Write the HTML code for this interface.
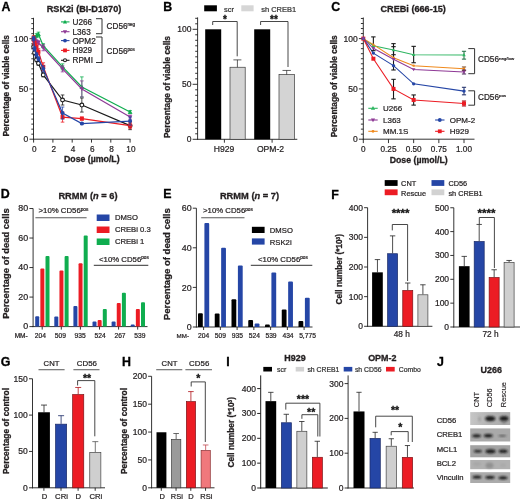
<!DOCTYPE html>
<html lang="en"><head><meta charset="utf-8"><title>Figure</title><style>html,body{margin:0;padding:0;background:#fff}svg{display:block}</style></head><body>
<svg width="520" height="502" viewBox="0 0 520 502" font-family="'Liberation Sans', Arial, sans-serif">
<rect width="520" height="502" fill="#fff"/>
<text x="1.4" y="11.3" font-size="12.4" font-weight="bold" text-anchor="start" fill="#000" stroke="#000" stroke-width="0.3">A</text>
<text x="163.3" y="11.1" font-size="12.4" font-weight="bold" text-anchor="start" fill="#000" stroke="#000" stroke-width="0.3">B</text>
<text x="331.3" y="11.3" font-size="12.4" font-weight="bold" text-anchor="start" fill="#000" stroke="#000" stroke-width="0.3">C</text>
<text x="0.8" y="198.2" font-size="12.4" font-weight="bold" text-anchor="start" fill="#000" stroke="#000" stroke-width="0.3">D</text>
<text x="163.3" y="198.2" font-size="12.4" font-weight="bold" text-anchor="start" fill="#000" stroke="#000" stroke-width="0.3">E</text>
<text x="331.3" y="198.5" font-size="12.4" font-weight="bold" text-anchor="start" fill="#000" stroke="#000" stroke-width="0.3">F</text>
<text x="0.8" y="366.1" font-size="12.4" font-weight="bold" text-anchor="start" fill="#000" stroke="#000" stroke-width="0.3">G</text>
<text x="121.9" y="366" font-size="12.4" font-weight="bold" text-anchor="start" fill="#000" stroke="#000" stroke-width="0.3">H</text>
<text x="226.3" y="365.9" font-size="12.4" font-weight="bold" text-anchor="start" fill="#000" stroke="#000" stroke-width="0.3">I</text>
<text x="437" y="365.9" font-size="12.4" font-weight="bold" text-anchor="start" fill="#000" stroke="#000" stroke-width="0.3">J</text>
<text x="84" y="11.9" font-size="9.15" font-weight="bold" text-anchor="middle" fill="#231f20" stroke="#231f20" stroke-width="0.3">RSK2i (BI-D1870)</text>
<line x1="33.5" y1="17.8" x2="33.5" y2="139.65" stroke="#1e1e1e" stroke-width="0.9"/>
<line x1="29.5" y1="139.2" x2="33.5" y2="139.2" stroke="#1e1e1e" stroke-width="0.9"/>
<text x="28.3" y="142.22" font-size="8.5" font-weight="normal" text-anchor="end" fill="#231f20" stroke="#231f20" stroke-width="0.22">0</text>
<line x1="29.5" y1="88.95" x2="33.5" y2="88.95" stroke="#1e1e1e" stroke-width="0.9"/>
<text x="28.3" y="91.97" font-size="8.5" font-weight="normal" text-anchor="end" fill="#231f20" stroke="#231f20" stroke-width="0.22">50</text>
<line x1="29.5" y1="38.7" x2="33.5" y2="38.7" stroke="#1e1e1e" stroke-width="0.9"/>
<text x="28.3" y="41.72" font-size="8.5" font-weight="normal" text-anchor="end" fill="#231f20" stroke="#231f20" stroke-width="0.22">100</text>
<line x1="31.3" y1="134.17" x2="33.5" y2="134.17" stroke="#1e1e1e" stroke-width="0.9"/>
<line x1="31.3" y1="129.15" x2="33.5" y2="129.15" stroke="#1e1e1e" stroke-width="0.9"/>
<line x1="31.3" y1="124.12" x2="33.5" y2="124.12" stroke="#1e1e1e" stroke-width="0.9"/>
<line x1="31.3" y1="119.1" x2="33.5" y2="119.1" stroke="#1e1e1e" stroke-width="0.9"/>
<line x1="31.3" y1="114.07" x2="33.5" y2="114.07" stroke="#1e1e1e" stroke-width="0.9"/>
<line x1="31.3" y1="109.05" x2="33.5" y2="109.05" stroke="#1e1e1e" stroke-width="0.9"/>
<line x1="31.3" y1="104.02" x2="33.5" y2="104.02" stroke="#1e1e1e" stroke-width="0.9"/>
<line x1="31.3" y1="99" x2="33.5" y2="99" stroke="#1e1e1e" stroke-width="0.9"/>
<line x1="31.3" y1="93.97" x2="33.5" y2="93.97" stroke="#1e1e1e" stroke-width="0.9"/>
<line x1="31.3" y1="83.92" x2="33.5" y2="83.92" stroke="#1e1e1e" stroke-width="0.9"/>
<line x1="31.3" y1="78.9" x2="33.5" y2="78.9" stroke="#1e1e1e" stroke-width="0.9"/>
<line x1="31.3" y1="73.88" x2="33.5" y2="73.88" stroke="#1e1e1e" stroke-width="0.9"/>
<line x1="31.3" y1="68.85" x2="33.5" y2="68.85" stroke="#1e1e1e" stroke-width="0.9"/>
<line x1="31.3" y1="63.83" x2="33.5" y2="63.83" stroke="#1e1e1e" stroke-width="0.9"/>
<line x1="31.3" y1="58.8" x2="33.5" y2="58.8" stroke="#1e1e1e" stroke-width="0.9"/>
<line x1="31.3" y1="53.77" x2="33.5" y2="53.77" stroke="#1e1e1e" stroke-width="0.9"/>
<line x1="31.3" y1="48.75" x2="33.5" y2="48.75" stroke="#1e1e1e" stroke-width="0.9"/>
<line x1="31.3" y1="43.72" x2="33.5" y2="43.72" stroke="#1e1e1e" stroke-width="0.9"/>
<line x1="31.3" y1="33.67" x2="33.5" y2="33.67" stroke="#1e1e1e" stroke-width="0.9"/>
<line x1="31.3" y1="28.65" x2="33.5" y2="28.65" stroke="#1e1e1e" stroke-width="0.9"/>
<line x1="31.3" y1="23.62" x2="33.5" y2="23.62" stroke="#1e1e1e" stroke-width="0.9"/>
<line x1="31.3" y1="18.6" x2="33.5" y2="18.6" stroke="#1e1e1e" stroke-width="0.9"/>
<line x1="33.05" y1="139.2" x2="130.5" y2="139.2" stroke="#1e1e1e" stroke-width="0.9"/>
<line x1="33.6" y1="139.2" x2="33.6" y2="142.6" stroke="#1e1e1e" stroke-width="0.9"/>
<text x="34.4" y="151.6" font-size="8.2" font-weight="normal" text-anchor="middle" fill="#231f20" stroke="#231f20" stroke-width="0.22">0</text>
<line x1="52.9" y1="139.2" x2="52.9" y2="142.6" stroke="#1e1e1e" stroke-width="0.9"/>
<text x="53.7" y="151.6" font-size="8.2" font-weight="normal" text-anchor="middle" fill="#231f20" stroke="#231f20" stroke-width="0.22">2</text>
<line x1="72.2" y1="139.2" x2="72.2" y2="142.6" stroke="#1e1e1e" stroke-width="0.9"/>
<text x="73" y="151.6" font-size="8.2" font-weight="normal" text-anchor="middle" fill="#231f20" stroke="#231f20" stroke-width="0.22">4</text>
<line x1="91.5" y1="139.2" x2="91.5" y2="142.6" stroke="#1e1e1e" stroke-width="0.9"/>
<text x="92.3" y="151.6" font-size="8.2" font-weight="normal" text-anchor="middle" fill="#231f20" stroke="#231f20" stroke-width="0.22">6</text>
<line x1="110.8" y1="139.2" x2="110.8" y2="142.6" stroke="#1e1e1e" stroke-width="0.9"/>
<text x="111.6" y="151.6" font-size="8.2" font-weight="normal" text-anchor="middle" fill="#231f20" stroke="#231f20" stroke-width="0.22">8</text>
<line x1="130.1" y1="139.2" x2="130.1" y2="142.6" stroke="#1e1e1e" stroke-width="0.9"/>
<text x="130.9" y="151.6" font-size="8.2" font-weight="normal" text-anchor="middle" fill="#231f20" stroke="#231f20" stroke-width="0.22">10</text>
<text x="91.8" y="162.3" font-size="8.75" font-weight="bold" text-anchor="middle" fill="#231f20" stroke="#231f20" stroke-width="0.3">Dose (µmo/L)</text>
<text transform="translate(8.8 85.8) rotate(-90)" font-size="8.3" font-weight="bold" text-anchor="middle" fill="#231f20" stroke="#231f20" stroke-width="0.3">Percentage of viable cells</text>
<polyline points="33.6,46.74 34.57,52.77 36.5,59.8 38.43,63.32 43.25,74.88 62.55,100 81.85,105.03 130.1,125.63" fill="none" stroke="#1a1a1a" stroke-width="1.2"/>
<line x1="33.6" y1="44.73" x2="33.6" y2="48.75" stroke="#1a1a1a" stroke-width="0.8"/>
<line x1="31.8" y1="44.73" x2="35.4" y2="44.73" stroke="#1a1a1a" stroke-width="0.8"/>
<line x1="31.8" y1="48.75" x2="35.4" y2="48.75" stroke="#1a1a1a" stroke-width="0.8"/>
<line x1="34.57" y1="50.76" x2="34.57" y2="54.78" stroke="#1a1a1a" stroke-width="0.8"/>
<line x1="32.77" y1="50.76" x2="36.37" y2="50.76" stroke="#1a1a1a" stroke-width="0.8"/>
<line x1="32.77" y1="54.78" x2="36.37" y2="54.78" stroke="#1a1a1a" stroke-width="0.8"/>
<line x1="36.5" y1="57.8" x2="36.5" y2="61.81" stroke="#1a1a1a" stroke-width="0.8"/>
<line x1="34.7" y1="57.8" x2="38.3" y2="57.8" stroke="#1a1a1a" stroke-width="0.8"/>
<line x1="34.7" y1="61.81" x2="38.3" y2="61.81" stroke="#1a1a1a" stroke-width="0.8"/>
<line x1="38.43" y1="61.31" x2="38.43" y2="65.33" stroke="#1a1a1a" stroke-width="0.8"/>
<line x1="36.63" y1="61.31" x2="40.23" y2="61.31" stroke="#1a1a1a" stroke-width="0.8"/>
<line x1="36.63" y1="65.33" x2="40.23" y2="65.33" stroke="#1a1a1a" stroke-width="0.8"/>
<line x1="43.25" y1="72.87" x2="43.25" y2="76.89" stroke="#1a1a1a" stroke-width="0.8"/>
<line x1="41.45" y1="72.87" x2="45.05" y2="72.87" stroke="#1a1a1a" stroke-width="0.8"/>
<line x1="41.45" y1="76.89" x2="45.05" y2="76.89" stroke="#1a1a1a" stroke-width="0.8"/>
<line x1="62.55" y1="94.98" x2="62.55" y2="105.03" stroke="#1a1a1a" stroke-width="0.8"/>
<line x1="60.75" y1="94.98" x2="64.35" y2="94.98" stroke="#1a1a1a" stroke-width="0.8"/>
<line x1="60.75" y1="105.03" x2="64.35" y2="105.03" stroke="#1a1a1a" stroke-width="0.8"/>
<line x1="81.85" y1="97.99" x2="81.85" y2="112.06" stroke="#1a1a1a" stroke-width="0.8"/>
<line x1="80.05" y1="97.99" x2="83.65" y2="97.99" stroke="#1a1a1a" stroke-width="0.8"/>
<line x1="80.05" y1="112.06" x2="83.65" y2="112.06" stroke="#1a1a1a" stroke-width="0.8"/>
<line x1="130.1" y1="121.61" x2="130.1" y2="129.65" stroke="#1a1a1a" stroke-width="0.8"/>
<line x1="128.3" y1="121.61" x2="131.9" y2="121.61" stroke="#1a1a1a" stroke-width="0.8"/>
<line x1="128.3" y1="129.65" x2="131.9" y2="129.65" stroke="#1a1a1a" stroke-width="0.8"/>
<circle cx="33.6" cy="46.74" r="1.9" fill="#fff" stroke="#1a1a1a" stroke-width="1.1"/>
<circle cx="34.57" cy="52.77" r="1.9" fill="#fff" stroke="#1a1a1a" stroke-width="1.1"/>
<circle cx="36.5" cy="59.8" r="1.9" fill="#fff" stroke="#1a1a1a" stroke-width="1.1"/>
<circle cx="38.43" cy="63.32" r="1.9" fill="#fff" stroke="#1a1a1a" stroke-width="1.1"/>
<circle cx="43.25" cy="74.88" r="1.9" fill="#fff" stroke="#1a1a1a" stroke-width="1.1"/>
<circle cx="62.55" cy="100" r="1.9" fill="#fff" stroke="#1a1a1a" stroke-width="1.1"/>
<circle cx="81.85" cy="105.03" r="1.9" fill="#fff" stroke="#1a1a1a" stroke-width="1.1"/>
<circle cx="130.1" cy="125.63" r="1.9" fill="#fff" stroke="#1a1a1a" stroke-width="1.1"/>
<polyline points="33.6,38.7 34.57,37.69 36.5,35.69 38.43,34.18 43.25,45.73 62.55,66.84 81.85,86.94 130.1,112.06" fill="none" stroke="#0fad4f" stroke-width="1.2"/>
<line x1="33.6" y1="36.69" x2="33.6" y2="40.71" stroke="#0fad4f" stroke-width="0.8"/>
<line x1="31.8" y1="36.69" x2="35.4" y2="36.69" stroke="#0fad4f" stroke-width="0.8"/>
<line x1="31.8" y1="40.71" x2="35.4" y2="40.71" stroke="#0fad4f" stroke-width="0.8"/>
<line x1="34.57" y1="35.69" x2="34.57" y2="39.7" stroke="#0fad4f" stroke-width="0.8"/>
<line x1="32.77" y1="35.69" x2="36.37" y2="35.69" stroke="#0fad4f" stroke-width="0.8"/>
<line x1="32.77" y1="39.7" x2="36.37" y2="39.7" stroke="#0fad4f" stroke-width="0.8"/>
<line x1="36.5" y1="33.67" x2="36.5" y2="37.69" stroke="#0fad4f" stroke-width="0.8"/>
<line x1="34.7" y1="33.67" x2="38.3" y2="33.67" stroke="#0fad4f" stroke-width="0.8"/>
<line x1="34.7" y1="37.69" x2="38.3" y2="37.69" stroke="#0fad4f" stroke-width="0.8"/>
<line x1="38.43" y1="32.17" x2="38.43" y2="36.19" stroke="#0fad4f" stroke-width="0.8"/>
<line x1="36.63" y1="32.17" x2="40.23" y2="32.17" stroke="#0fad4f" stroke-width="0.8"/>
<line x1="36.63" y1="36.19" x2="40.23" y2="36.19" stroke="#0fad4f" stroke-width="0.8"/>
<line x1="43.25" y1="43.72" x2="43.25" y2="47.75" stroke="#0fad4f" stroke-width="0.8"/>
<line x1="41.45" y1="43.72" x2="45.05" y2="43.72" stroke="#0fad4f" stroke-width="0.8"/>
<line x1="41.45" y1="47.75" x2="45.05" y2="47.75" stroke="#0fad4f" stroke-width="0.8"/>
<line x1="62.55" y1="63.83" x2="62.55" y2="69.85" stroke="#0fad4f" stroke-width="0.8"/>
<line x1="60.75" y1="63.83" x2="64.35" y2="63.83" stroke="#0fad4f" stroke-width="0.8"/>
<line x1="60.75" y1="69.85" x2="64.35" y2="69.85" stroke="#0fad4f" stroke-width="0.8"/>
<line x1="81.85" y1="76.89" x2="81.85" y2="96.99" stroke="#0fad4f" stroke-width="0.8"/>
<line x1="80.05" y1="76.89" x2="83.65" y2="76.89" stroke="#0fad4f" stroke-width="0.8"/>
<line x1="80.05" y1="96.99" x2="83.65" y2="96.99" stroke="#0fad4f" stroke-width="0.8"/>
<line x1="130.1" y1="110.56" x2="130.1" y2="113.57" stroke="#0fad4f" stroke-width="0.8"/>
<line x1="128.3" y1="110.56" x2="131.9" y2="110.56" stroke="#0fad4f" stroke-width="0.8"/>
<line x1="128.3" y1="113.57" x2="131.9" y2="113.57" stroke="#0fad4f" stroke-width="0.8"/>
<path d="M33.6 36.17 l2.42 4.29 h-4.84 z" fill="#0fad4f"/>
<path d="M34.57 35.16 l2.42 4.29 h-4.84 z" fill="#0fad4f"/>
<path d="M36.5 33.16 l2.42 4.29 h-4.84 z" fill="#0fad4f"/>
<path d="M38.43 31.65 l2.42 4.29 h-4.84 z" fill="#0fad4f"/>
<path d="M43.25 43.2 l2.42 4.29 h-4.84 z" fill="#0fad4f"/>
<path d="M62.55 64.31 l2.42 4.29 h-4.84 z" fill="#0fad4f"/>
<path d="M81.85 84.41 l2.42 4.29 h-4.84 z" fill="#0fad4f"/>
<path d="M130.1 109.53 l2.42 4.29 h-4.84 z" fill="#0fad4f"/>
<polyline points="33.6,38.7 34.57,39.7 36.5,41.72 38.43,42.72 43.25,47.75 62.55,68.85 81.85,88.95 130.1,117.09" fill="none" stroke="#8f3a96" stroke-width="1.2"/>
<line x1="33.6" y1="36.69" x2="33.6" y2="40.71" stroke="#8f3a96" stroke-width="0.8"/>
<line x1="31.8" y1="36.69" x2="35.4" y2="36.69" stroke="#8f3a96" stroke-width="0.8"/>
<line x1="31.8" y1="40.71" x2="35.4" y2="40.71" stroke="#8f3a96" stroke-width="0.8"/>
<line x1="34.57" y1="37.69" x2="34.57" y2="41.72" stroke="#8f3a96" stroke-width="0.8"/>
<line x1="32.77" y1="37.69" x2="36.37" y2="37.69" stroke="#8f3a96" stroke-width="0.8"/>
<line x1="32.77" y1="41.72" x2="36.37" y2="41.72" stroke="#8f3a96" stroke-width="0.8"/>
<line x1="36.5" y1="39.7" x2="36.5" y2="43.72" stroke="#8f3a96" stroke-width="0.8"/>
<line x1="34.7" y1="39.7" x2="38.3" y2="39.7" stroke="#8f3a96" stroke-width="0.8"/>
<line x1="34.7" y1="43.72" x2="38.3" y2="43.72" stroke="#8f3a96" stroke-width="0.8"/>
<line x1="38.43" y1="40.71" x2="38.43" y2="44.73" stroke="#8f3a96" stroke-width="0.8"/>
<line x1="36.63" y1="40.71" x2="40.23" y2="40.71" stroke="#8f3a96" stroke-width="0.8"/>
<line x1="36.63" y1="44.73" x2="40.23" y2="44.73" stroke="#8f3a96" stroke-width="0.8"/>
<line x1="43.25" y1="44.73" x2="43.25" y2="50.76" stroke="#8f3a96" stroke-width="0.8"/>
<line x1="41.45" y1="44.73" x2="45.05" y2="44.73" stroke="#8f3a96" stroke-width="0.8"/>
<line x1="41.45" y1="50.76" x2="45.05" y2="50.76" stroke="#8f3a96" stroke-width="0.8"/>
<line x1="62.55" y1="65.83" x2="62.55" y2="71.86" stroke="#8f3a96" stroke-width="0.8"/>
<line x1="60.75" y1="65.83" x2="64.35" y2="65.83" stroke="#8f3a96" stroke-width="0.8"/>
<line x1="60.75" y1="71.86" x2="64.35" y2="71.86" stroke="#8f3a96" stroke-width="0.8"/>
<line x1="81.85" y1="80.91" x2="81.85" y2="96.99" stroke="#8f3a96" stroke-width="0.8"/>
<line x1="80.05" y1="80.91" x2="83.65" y2="80.91" stroke="#8f3a96" stroke-width="0.8"/>
<line x1="80.05" y1="96.99" x2="83.65" y2="96.99" stroke="#8f3a96" stroke-width="0.8"/>
<line x1="130.1" y1="115.08" x2="130.1" y2="119.1" stroke="#8f3a96" stroke-width="0.8"/>
<line x1="128.3" y1="115.08" x2="131.9" y2="115.08" stroke="#8f3a96" stroke-width="0.8"/>
<line x1="128.3" y1="119.1" x2="131.9" y2="119.1" stroke="#8f3a96" stroke-width="0.8"/>
<path d="M33.6 41 l2.2 -3.9 h-4.4 z" fill="#8f3a96"/>
<path d="M34.57 42 l2.2 -3.9 h-4.4 z" fill="#8f3a96"/>
<path d="M36.5 44.02 l2.2 -3.9 h-4.4 z" fill="#8f3a96"/>
<path d="M38.43 45.02 l2.2 -3.9 h-4.4 z" fill="#8f3a96"/>
<path d="M43.25 50.05 l2.2 -3.9 h-4.4 z" fill="#8f3a96"/>
<path d="M62.55 71.15 l2.2 -3.9 h-4.4 z" fill="#8f3a96"/>
<path d="M81.85 91.25 l2.2 -3.9 h-4.4 z" fill="#8f3a96"/>
<path d="M130.1 119.39 l2.2 -3.9 h-4.4 z" fill="#8f3a96"/>
<polyline points="33.6,38.7 34.57,42.72 36.5,46.74 38.43,51.77 43.25,66.84 62.55,117.09 81.85,118.6 130.1,125.63" fill="none" stroke="#ec1c24" stroke-width="1.2"/>
<line x1="33.6" y1="35.69" x2="33.6" y2="41.72" stroke="#ec1c24" stroke-width="0.8"/>
<line x1="31.8" y1="35.69" x2="35.4" y2="35.69" stroke="#ec1c24" stroke-width="0.8"/>
<line x1="31.8" y1="41.72" x2="35.4" y2="41.72" stroke="#ec1c24" stroke-width="0.8"/>
<line x1="34.57" y1="39.7" x2="34.57" y2="45.73" stroke="#ec1c24" stroke-width="0.8"/>
<line x1="32.77" y1="39.7" x2="36.37" y2="39.7" stroke="#ec1c24" stroke-width="0.8"/>
<line x1="32.77" y1="45.73" x2="36.37" y2="45.73" stroke="#ec1c24" stroke-width="0.8"/>
<line x1="36.5" y1="43.72" x2="36.5" y2="49.75" stroke="#ec1c24" stroke-width="0.8"/>
<line x1="34.7" y1="43.72" x2="38.3" y2="43.72" stroke="#ec1c24" stroke-width="0.8"/>
<line x1="34.7" y1="49.75" x2="38.3" y2="49.75" stroke="#ec1c24" stroke-width="0.8"/>
<line x1="38.43" y1="48.75" x2="38.43" y2="54.78" stroke="#ec1c24" stroke-width="0.8"/>
<line x1="36.63" y1="48.75" x2="40.23" y2="48.75" stroke="#ec1c24" stroke-width="0.8"/>
<line x1="36.63" y1="54.78" x2="40.23" y2="54.78" stroke="#ec1c24" stroke-width="0.8"/>
<line x1="43.25" y1="62.82" x2="43.25" y2="70.86" stroke="#ec1c24" stroke-width="0.8"/>
<line x1="41.45" y1="62.82" x2="45.05" y2="62.82" stroke="#ec1c24" stroke-width="0.8"/>
<line x1="41.45" y1="70.86" x2="45.05" y2="70.86" stroke="#ec1c24" stroke-width="0.8"/>
<line x1="62.55" y1="112.06" x2="62.55" y2="122.11" stroke="#ec1c24" stroke-width="0.8"/>
<line x1="60.75" y1="112.06" x2="64.35" y2="112.06" stroke="#ec1c24" stroke-width="0.8"/>
<line x1="60.75" y1="122.11" x2="64.35" y2="122.11" stroke="#ec1c24" stroke-width="0.8"/>
<line x1="81.85" y1="117.09" x2="81.85" y2="120.1" stroke="#ec1c24" stroke-width="0.8"/>
<line x1="80.05" y1="117.09" x2="83.65" y2="117.09" stroke="#ec1c24" stroke-width="0.8"/>
<line x1="80.05" y1="120.1" x2="83.65" y2="120.1" stroke="#ec1c24" stroke-width="0.8"/>
<line x1="130.1" y1="122.62" x2="130.1" y2="128.65" stroke="#ec1c24" stroke-width="0.8"/>
<line x1="128.3" y1="122.62" x2="131.9" y2="122.62" stroke="#ec1c24" stroke-width="0.8"/>
<line x1="128.3" y1="128.65" x2="131.9" y2="128.65" stroke="#ec1c24" stroke-width="0.8"/>
<rect x="31.6" y="36.7" width="4" height="4" fill="#ec1c24"/>
<rect x="32.57" y="40.72" width="4" height="4" fill="#ec1c24"/>
<rect x="34.5" y="44.74" width="4" height="4" fill="#ec1c24"/>
<rect x="36.43" y="49.77" width="4" height="4" fill="#ec1c24"/>
<rect x="41.25" y="64.84" width="4" height="4" fill="#ec1c24"/>
<rect x="60.55" y="115.09" width="4" height="4" fill="#ec1c24"/>
<rect x="79.85" y="116.6" width="4" height="4" fill="#ec1c24"/>
<rect x="128.1" y="123.63" width="4" height="4" fill="#ec1c24"/>
<polyline points="33.6,38.7 34.57,48.75 36.5,54.78 38.43,58.8 43.25,68.85 62.55,113.07 81.85,123.62 130.1,121.11" fill="none" stroke="#2546a6" stroke-width="1.2"/>
<line x1="33.6" y1="36.69" x2="33.6" y2="40.71" stroke="#2546a6" stroke-width="0.8"/>
<line x1="31.8" y1="36.69" x2="35.4" y2="36.69" stroke="#2546a6" stroke-width="0.8"/>
<line x1="31.8" y1="40.71" x2="35.4" y2="40.71" stroke="#2546a6" stroke-width="0.8"/>
<line x1="34.57" y1="46.74" x2="34.57" y2="50.76" stroke="#2546a6" stroke-width="0.8"/>
<line x1="32.77" y1="46.74" x2="36.37" y2="46.74" stroke="#2546a6" stroke-width="0.8"/>
<line x1="32.77" y1="50.76" x2="36.37" y2="50.76" stroke="#2546a6" stroke-width="0.8"/>
<line x1="36.5" y1="52.77" x2="36.5" y2="56.79" stroke="#2546a6" stroke-width="0.8"/>
<line x1="34.7" y1="52.77" x2="38.3" y2="52.77" stroke="#2546a6" stroke-width="0.8"/>
<line x1="34.7" y1="56.79" x2="38.3" y2="56.79" stroke="#2546a6" stroke-width="0.8"/>
<line x1="38.43" y1="56.79" x2="38.43" y2="60.81" stroke="#2546a6" stroke-width="0.8"/>
<line x1="36.63" y1="56.79" x2="40.23" y2="56.79" stroke="#2546a6" stroke-width="0.8"/>
<line x1="36.63" y1="60.81" x2="40.23" y2="60.81" stroke="#2546a6" stroke-width="0.8"/>
<line x1="43.25" y1="65.83" x2="43.25" y2="71.86" stroke="#2546a6" stroke-width="0.8"/>
<line x1="41.45" y1="65.83" x2="45.05" y2="65.83" stroke="#2546a6" stroke-width="0.8"/>
<line x1="41.45" y1="71.86" x2="45.05" y2="71.86" stroke="#2546a6" stroke-width="0.8"/>
<line x1="62.55" y1="107.04" x2="62.55" y2="119.1" stroke="#2546a6" stroke-width="0.8"/>
<line x1="60.75" y1="107.04" x2="64.35" y2="107.04" stroke="#2546a6" stroke-width="0.8"/>
<line x1="60.75" y1="119.1" x2="64.35" y2="119.1" stroke="#2546a6" stroke-width="0.8"/>
<line x1="81.85" y1="122.62" x2="81.85" y2="124.63" stroke="#2546a6" stroke-width="0.8"/>
<line x1="80.05" y1="122.62" x2="83.65" y2="122.62" stroke="#2546a6" stroke-width="0.8"/>
<line x1="80.05" y1="124.63" x2="83.65" y2="124.63" stroke="#2546a6" stroke-width="0.8"/>
<line x1="130.1" y1="117.09" x2="130.1" y2="125.13" stroke="#2546a6" stroke-width="0.8"/>
<line x1="128.3" y1="117.09" x2="131.9" y2="117.09" stroke="#2546a6" stroke-width="0.8"/>
<line x1="128.3" y1="125.13" x2="131.9" y2="125.13" stroke="#2546a6" stroke-width="0.8"/>
<circle cx="33.6" cy="38.7" r="2" fill="#2546a6"/>
<circle cx="34.57" cy="48.75" r="2" fill="#2546a6"/>
<circle cx="36.5" cy="54.78" r="2" fill="#2546a6"/>
<circle cx="38.43" cy="58.8" r="2" fill="#2546a6"/>
<circle cx="43.25" cy="68.85" r="2" fill="#2546a6"/>
<circle cx="62.55" cy="113.07" r="2" fill="#2546a6"/>
<circle cx="81.85" cy="123.62" r="2" fill="#2546a6"/>
<circle cx="130.1" cy="121.11" r="2" fill="#2546a6"/>
<line x1="61" y1="21.9" x2="69.5" y2="21.9" stroke="#0fad4f" stroke-width="1.1"/>
<path d="M65 19.71 l2.09 3.7 h-4.18 z" fill="#0fad4f"/>
<text x="72.5" y="24.8" font-size="8.2" font-weight="normal" text-anchor="start" fill="#231f20" stroke="#231f20" stroke-width="0.22">U266</text>
<line x1="61" y1="31.7" x2="69.5" y2="31.7" stroke="#8f3a96" stroke-width="1.1"/>
<path d="M65 33.88 l2.09 -3.7 h-4.18 z" fill="#8f3a96"/>
<text x="72.5" y="34.6" font-size="8.2" font-weight="normal" text-anchor="start" fill="#231f20" stroke="#231f20" stroke-width="0.22">L363</text>
<line x1="61" y1="40.6" x2="69.5" y2="40.6" stroke="#2546a6" stroke-width="1.1"/>
<circle cx="65" cy="40.6" r="1.9" fill="#2546a6"/>
<text x="72.5" y="43.5" font-size="8.2" font-weight="normal" text-anchor="start" fill="#231f20" stroke="#231f20" stroke-width="0.22">OPM2</text>
<line x1="61" y1="50.4" x2="69.5" y2="50.4" stroke="#ec1c24" stroke-width="1.1"/>
<rect x="63.1" y="48.5" width="3.8" height="3.8" fill="#ec1c24"/>
<text x="72.5" y="53.3" font-size="8.2" font-weight="normal" text-anchor="start" fill="#231f20" stroke="#231f20" stroke-width="0.22">H929</text>
<line x1="61" y1="60.3" x2="69.5" y2="60.3" stroke="#1a1a1a" stroke-width="1.1"/>
<circle cx="65" cy="60.3" r="1.5" fill="#fff" stroke="#1a1a1a" stroke-width="1.1"/>
<text x="72.5" y="63.2" font-size="8.2" font-weight="normal" text-anchor="start" fill="#231f20" stroke="#231f20" stroke-width="0.22">RPMI</text>
<path d="M96 18.7 H102 V33.7 H96" fill="none" stroke="#333" stroke-width="1"/>
<path d="M96 37 H102 V62.5 H96" fill="none" stroke="#333" stroke-width="1"/>
<text x="106.6" y="29" font-size="8.2" font-weight="normal" text-anchor="start" fill="#231f20" stroke="#231f20" stroke-width="0.22">CD56<tspan font-size="4.5" dy="-2.7">neg</tspan></text>
<text x="106.6" y="53.5" font-size="8.2" font-weight="normal" text-anchor="start" fill="#231f20" stroke="#231f20" stroke-width="0.22">CD56<tspan font-size="4.5" dy="-2.7">pos</tspan></text>
<line x1="197.6" y1="17.4" x2="197.6" y2="139.75" stroke="#1e1e1e" stroke-width="0.9"/>
<line x1="192.6" y1="139.3" x2="197.6" y2="139.3" stroke="#1e1e1e" stroke-width="0.9"/>
<text x="191.4" y="142.32" font-size="8.5" font-weight="normal" text-anchor="end" fill="#231f20" stroke="#231f20" stroke-width="0.22">0</text>
<line x1="192.6" y1="84.3" x2="197.6" y2="84.3" stroke="#1e1e1e" stroke-width="0.9"/>
<text x="191.4" y="87.32" font-size="8.5" font-weight="normal" text-anchor="end" fill="#231f20" stroke="#231f20" stroke-width="0.22">50</text>
<line x1="192.6" y1="29.3" x2="197.6" y2="29.3" stroke="#1e1e1e" stroke-width="0.9"/>
<text x="191.4" y="32.32" font-size="8.5" font-weight="normal" text-anchor="end" fill="#231f20" stroke="#231f20" stroke-width="0.22">100</text>
<line x1="195.2" y1="133.8" x2="197.6" y2="133.8" stroke="#1e1e1e" stroke-width="0.9"/>
<line x1="195.2" y1="128.3" x2="197.6" y2="128.3" stroke="#1e1e1e" stroke-width="0.9"/>
<line x1="195.2" y1="122.8" x2="197.6" y2="122.8" stroke="#1e1e1e" stroke-width="0.9"/>
<line x1="195.2" y1="117.3" x2="197.6" y2="117.3" stroke="#1e1e1e" stroke-width="0.9"/>
<line x1="195.2" y1="111.8" x2="197.6" y2="111.8" stroke="#1e1e1e" stroke-width="0.9"/>
<line x1="195.2" y1="106.3" x2="197.6" y2="106.3" stroke="#1e1e1e" stroke-width="0.9"/>
<line x1="195.2" y1="100.8" x2="197.6" y2="100.8" stroke="#1e1e1e" stroke-width="0.9"/>
<line x1="195.2" y1="95.3" x2="197.6" y2="95.3" stroke="#1e1e1e" stroke-width="0.9"/>
<line x1="195.2" y1="89.8" x2="197.6" y2="89.8" stroke="#1e1e1e" stroke-width="0.9"/>
<line x1="195.2" y1="78.8" x2="197.6" y2="78.8" stroke="#1e1e1e" stroke-width="0.9"/>
<line x1="195.2" y1="73.3" x2="197.6" y2="73.3" stroke="#1e1e1e" stroke-width="0.9"/>
<line x1="195.2" y1="67.8" x2="197.6" y2="67.8" stroke="#1e1e1e" stroke-width="0.9"/>
<line x1="195.2" y1="62.3" x2="197.6" y2="62.3" stroke="#1e1e1e" stroke-width="0.9"/>
<line x1="195.2" y1="56.8" x2="197.6" y2="56.8" stroke="#1e1e1e" stroke-width="0.9"/>
<line x1="195.2" y1="51.3" x2="197.6" y2="51.3" stroke="#1e1e1e" stroke-width="0.9"/>
<line x1="195.2" y1="45.8" x2="197.6" y2="45.8" stroke="#1e1e1e" stroke-width="0.9"/>
<line x1="195.2" y1="40.3" x2="197.6" y2="40.3" stroke="#1e1e1e" stroke-width="0.9"/>
<line x1="195.2" y1="34.8" x2="197.6" y2="34.8" stroke="#1e1e1e" stroke-width="0.9"/>
<line x1="195.2" y1="23.8" x2="197.6" y2="23.8" stroke="#1e1e1e" stroke-width="0.9"/>
<line x1="195.2" y1="18.3" x2="197.6" y2="18.3" stroke="#1e1e1e" stroke-width="0.9"/>
<line x1="197.15" y1="139.3" x2="297.3" y2="139.3" stroke="#1e1e1e" stroke-width="0.9"/>
<text transform="translate(169.7 87) rotate(-90)" font-size="8.35" font-weight="bold" text-anchor="middle" fill="#231f20" stroke="#231f20" stroke-width="0.3">Percentage of viable cells</text>
<rect x="205.2" y="29.3" width="16" height="110" fill="#000"/>
<rect x="230" y="67.25" width="15.2" height="72.05" fill="#d4d4d4" stroke="#3a3a3a" stroke-width="0.7"/>
<line x1="237.4" y1="59.88" x2="237.4" y2="67.25" stroke="#1e1e1e" stroke-width="0.7"/>
<line x1="233.4" y1="59.88" x2="241.4" y2="59.88" stroke="#1e1e1e" stroke-width="0.7"/>
<rect x="254.2" y="29.3" width="16" height="110" fill="#000"/>
<rect x="279" y="74.51" width="15.4" height="64.79" fill="#d4d4d4" stroke="#3a3a3a" stroke-width="0.7"/>
<line x1="286.7" y1="70.44" x2="286.7" y2="74.51" stroke="#1e1e1e" stroke-width="0.7"/>
<line x1="282.5" y1="70.44" x2="290.9" y2="70.44" stroke="#1e1e1e" stroke-width="0.7"/>
<line x1="224.4" y1="139.3" x2="224.4" y2="142.7" stroke="#1e1e1e" stroke-width="0.9"/>
<line x1="272.1" y1="139.3" x2="272.1" y2="142.7" stroke="#1e1e1e" stroke-width="0.9"/>
<text x="224" y="152.2" font-size="8.6" font-weight="normal" text-anchor="middle" fill="#231f20" stroke="#231f20" stroke-width="0.22">H929</text>
<text x="270.5" y="152.2" font-size="8.6" font-weight="normal" text-anchor="middle" fill="#231f20" stroke="#231f20" stroke-width="0.22">OPM-2</text>
<path d="M212.7 25 V21.5 H237.2 V56.3" fill="none" stroke="#333" stroke-width="0.9"/>
<path d="M260.6 25 V21.5 H288 V67" fill="none" stroke="#333" stroke-width="0.9"/>
<text x="225" y="22.85" font-size="10" font-weight="bold" text-anchor="middle" fill="#111" stroke="#111" stroke-width="0.3">*</text>
<text x="274" y="22.85" font-size="10" font-weight="bold" text-anchor="middle" fill="#111" stroke="#111" stroke-width="0.3">**</text>
<rect x="204.2" y="5.3" width="12.7" height="6" fill="#000"/>
<text x="224" y="11.5" font-size="7.5" font-weight="normal" text-anchor="start" fill="#333" stroke="#333" stroke-width="0.22">scr</text>
<rect x="241.3" y="5.3" width="12.3" height="6" fill="#d6d6d6"/>
<text x="261.2" y="11.5" font-size="7.5" font-weight="normal" text-anchor="start" fill="#333" stroke="#333" stroke-width="0.22">sh CREB1</text>
<text x="413.2" y="11.8" font-size="9.15" font-weight="bold" text-anchor="middle" fill="#231f20" stroke="#231f20" stroke-width="0.3">CREBi (666-15)</text>
<line x1="363.3" y1="17.5" x2="363.3" y2="139.65" stroke="#1e1e1e" stroke-width="0.9"/>
<line x1="358.9" y1="139.2" x2="363.3" y2="139.2" stroke="#1e1e1e" stroke-width="0.9"/>
<text x="357.7" y="142.22" font-size="8.5" font-weight="normal" text-anchor="end" fill="#231f20" stroke="#231f20" stroke-width="0.22">0</text>
<line x1="358.9" y1="88.9" x2="363.3" y2="88.9" stroke="#1e1e1e" stroke-width="0.9"/>
<text x="357.7" y="91.92" font-size="8.5" font-weight="normal" text-anchor="end" fill="#231f20" stroke="#231f20" stroke-width="0.22">50</text>
<line x1="358.9" y1="38.6" x2="363.3" y2="38.6" stroke="#1e1e1e" stroke-width="0.9"/>
<text x="357.7" y="41.62" font-size="8.5" font-weight="normal" text-anchor="end" fill="#231f20" stroke="#231f20" stroke-width="0.22">100</text>
<line x1="360.9" y1="134.17" x2="363.3" y2="134.17" stroke="#1e1e1e" stroke-width="0.9"/>
<line x1="360.9" y1="129.14" x2="363.3" y2="129.14" stroke="#1e1e1e" stroke-width="0.9"/>
<line x1="360.9" y1="124.11" x2="363.3" y2="124.11" stroke="#1e1e1e" stroke-width="0.9"/>
<line x1="360.9" y1="119.08" x2="363.3" y2="119.08" stroke="#1e1e1e" stroke-width="0.9"/>
<line x1="360.9" y1="114.05" x2="363.3" y2="114.05" stroke="#1e1e1e" stroke-width="0.9"/>
<line x1="360.9" y1="109.02" x2="363.3" y2="109.02" stroke="#1e1e1e" stroke-width="0.9"/>
<line x1="360.9" y1="103.99" x2="363.3" y2="103.99" stroke="#1e1e1e" stroke-width="0.9"/>
<line x1="360.9" y1="98.96" x2="363.3" y2="98.96" stroke="#1e1e1e" stroke-width="0.9"/>
<line x1="360.9" y1="93.93" x2="363.3" y2="93.93" stroke="#1e1e1e" stroke-width="0.9"/>
<line x1="360.9" y1="83.87" x2="363.3" y2="83.87" stroke="#1e1e1e" stroke-width="0.9"/>
<line x1="360.9" y1="78.84" x2="363.3" y2="78.84" stroke="#1e1e1e" stroke-width="0.9"/>
<line x1="360.9" y1="73.81" x2="363.3" y2="73.81" stroke="#1e1e1e" stroke-width="0.9"/>
<line x1="360.9" y1="68.78" x2="363.3" y2="68.78" stroke="#1e1e1e" stroke-width="0.9"/>
<line x1="360.9" y1="63.75" x2="363.3" y2="63.75" stroke="#1e1e1e" stroke-width="0.9"/>
<line x1="360.9" y1="58.72" x2="363.3" y2="58.72" stroke="#1e1e1e" stroke-width="0.9"/>
<line x1="360.9" y1="53.69" x2="363.3" y2="53.69" stroke="#1e1e1e" stroke-width="0.9"/>
<line x1="360.9" y1="48.66" x2="363.3" y2="48.66" stroke="#1e1e1e" stroke-width="0.9"/>
<line x1="360.9" y1="43.63" x2="363.3" y2="43.63" stroke="#1e1e1e" stroke-width="0.9"/>
<line x1="360.9" y1="33.57" x2="363.3" y2="33.57" stroke="#1e1e1e" stroke-width="0.9"/>
<line x1="360.9" y1="28.54" x2="363.3" y2="28.54" stroke="#1e1e1e" stroke-width="0.9"/>
<line x1="360.9" y1="23.51" x2="363.3" y2="23.51" stroke="#1e1e1e" stroke-width="0.9"/>
<line x1="360.9" y1="18.48" x2="363.3" y2="18.48" stroke="#1e1e1e" stroke-width="0.9"/>
<line x1="362.85" y1="139.2" x2="474.5" y2="139.2" stroke="#1e1e1e" stroke-width="0.9"/>
<line x1="363.3" y1="139.2" x2="363.3" y2="143.1" stroke="#1e1e1e" stroke-width="0.9"/>
<text x="363.3" y="151.7" font-size="8.2" font-weight="normal" text-anchor="middle" fill="#231f20" stroke="#231f20" stroke-width="0.22">0</text>
<line x1="388.48" y1="139.2" x2="388.48" y2="143.1" stroke="#1e1e1e" stroke-width="0.9"/>
<text x="388.48" y="151.7" font-size="8.2" font-weight="normal" text-anchor="middle" fill="#231f20" stroke="#231f20" stroke-width="0.22">0.25</text>
<line x1="413.65" y1="139.2" x2="413.65" y2="143.1" stroke="#1e1e1e" stroke-width="0.9"/>
<text x="413.65" y="151.7" font-size="8.2" font-weight="normal" text-anchor="middle" fill="#231f20" stroke="#231f20" stroke-width="0.22">0.50</text>
<line x1="438.83" y1="139.2" x2="438.83" y2="143.1" stroke="#1e1e1e" stroke-width="0.9"/>
<text x="438.83" y="151.7" font-size="8.2" font-weight="normal" text-anchor="middle" fill="#231f20" stroke="#231f20" stroke-width="0.22">0.75</text>
<line x1="464" y1="139.2" x2="464" y2="143.1" stroke="#1e1e1e" stroke-width="0.9"/>
<text x="464" y="151.7" font-size="8.2" font-weight="normal" text-anchor="middle" fill="#231f20" stroke="#231f20" stroke-width="0.22">1.00</text>
<text x="418.7" y="162.5" font-size="8.75" font-weight="bold" text-anchor="middle" fill="#231f20" stroke="#231f20" stroke-width="0.3">Dose (µmol/L)</text>
<text transform="translate(336.6 86.3) rotate(-90)" font-size="8.35" font-weight="bold" text-anchor="middle" fill="#231f20" stroke="#231f20" stroke-width="0.3">Percentage of viable cells</text>
<polyline points="363.3,38.6 373.37,45.64 393.51,50.07 413.65,54.8 464,54.9" fill="none" stroke="#2db560" stroke-width="1.05"/>
<polyline points="363.3,38.6 373.37,44.64 393.51,57.71 413.65,65.66 464,68.78" fill="none" stroke="#f08a1d" stroke-width="1.05"/>
<polyline points="363.3,38.6 373.37,48.26 393.51,59.32 413.65,69.48 464,72" fill="none" stroke="#8f3a96" stroke-width="1.05"/>
<polyline points="363.3,38.6 373.37,53.09 393.51,65.66 413.65,83.87 464,91.11" fill="none" stroke="#2546a6" stroke-width="1.05"/>
<polyline points="363.3,38.6 373.37,58.72 393.51,88.9 413.65,99.97 464,103.49" fill="none" stroke="#ec1c24" stroke-width="1.05"/>
<line x1="373.37" y1="36.89" x2="373.37" y2="50.67" stroke="#1a1a1a" stroke-width="1.1"/>
<line x1="371.17" y1="36.89" x2="375.57" y2="36.89" stroke="#1a1a1a" stroke-width="1.1"/>
<line x1="371.17" y1="50.67" x2="375.57" y2="50.67" stroke="#1a1a1a" stroke-width="1.1"/>
<line x1="393.51" y1="43.63" x2="393.51" y2="69.99" stroke="#1a1a1a" stroke-width="1.1"/>
<line x1="391.31" y1="43.63" x2="395.71" y2="43.63" stroke="#1a1a1a" stroke-width="1.1"/>
<line x1="391.31" y1="69.99" x2="395.71" y2="69.99" stroke="#1a1a1a" stroke-width="1.1"/>
<line x1="393.51" y1="79.34" x2="393.51" y2="98.86" stroke="#1a1a1a" stroke-width="1.1"/>
<line x1="391.31" y1="79.34" x2="395.71" y2="79.34" stroke="#1a1a1a" stroke-width="1.1"/>
<line x1="391.31" y1="98.86" x2="395.71" y2="98.86" stroke="#1a1a1a" stroke-width="1.1"/>
<line x1="413.65" y1="46.35" x2="413.65" y2="62.74" stroke="#1a1a1a" stroke-width="1.1"/>
<line x1="411.45" y1="46.35" x2="415.85" y2="46.35" stroke="#1a1a1a" stroke-width="1.1"/>
<line x1="411.45" y1="62.74" x2="415.85" y2="62.74" stroke="#1a1a1a" stroke-width="1.1"/>
<line x1="413.65" y1="94.94" x2="413.65" y2="105.1" stroke="#1a1a1a" stroke-width="1.1"/>
<line x1="411.45" y1="94.94" x2="415.85" y2="94.94" stroke="#1a1a1a" stroke-width="1.1"/>
<line x1="411.45" y1="105.1" x2="415.85" y2="105.1" stroke="#1a1a1a" stroke-width="1.1"/>
<line x1="393.51" y1="46.65" x2="393.51" y2="54.7" stroke="#1a1a1a" stroke-width="1.1"/>
<line x1="391.31" y1="46.65" x2="395.71" y2="46.65" stroke="#1a1a1a" stroke-width="1.1"/>
<line x1="391.31" y1="54.7" x2="395.71" y2="54.7" stroke="#1a1a1a" stroke-width="1.1"/>
<line x1="464" y1="100.97" x2="464" y2="106" stroke="#a01018" stroke-width="1"/>
<line x1="461.9" y1="100.97" x2="466.1" y2="100.97" stroke="#a01018" stroke-width="1"/>
<line x1="461.9" y1="106" x2="466.1" y2="106" stroke="#a01018" stroke-width="1"/>
<rect x="361.3" y="36.6" width="4" height="4" fill="#ec1c24"/>
<rect x="371.37" y="56.72" width="4" height="4" fill="#ec1c24"/>
<rect x="391.51" y="86.9" width="4" height="4" fill="#ec1c24"/>
<rect x="411.65" y="97.97" width="4" height="4" fill="#ec1c24"/>
<rect x="462" y="101.49" width="4" height="4" fill="#ec1c24"/>
<line x1="464" y1="51.28" x2="464" y2="59.12" stroke="#1d6b40" stroke-width="1"/>
<line x1="461.9" y1="51.28" x2="466.1" y2="51.28" stroke="#1d6b40" stroke-width="1"/>
<line x1="461.9" y1="59.12" x2="466.1" y2="59.12" stroke="#1d6b40" stroke-width="1"/>
<path d="M363.3 36.76 l1.76 3.12 h-3.52 z" fill="#2db560"/>
<path d="M373.37 43.8 l1.76 3.12 h-3.52 z" fill="#2db560"/>
<path d="M393.51 48.23 l1.76 3.12 h-3.52 z" fill="#2db560"/>
<path d="M413.65 52.96 l1.76 3.12 h-3.52 z" fill="#2db560"/>
<path d="M464 53.06 l1.76 3.12 h-3.52 z" fill="#2db560"/>
<line x1="464" y1="66.97" x2="464" y2="70.59" stroke="#7a4a2a" stroke-width="1"/>
<line x1="461.9" y1="66.97" x2="466.1" y2="66.97" stroke="#7a4a2a" stroke-width="1"/>
<line x1="461.9" y1="70.59" x2="466.1" y2="70.59" stroke="#7a4a2a" stroke-width="1"/>
<circle cx="363.3" cy="38.6" r="1.2" fill="#f08a1d"/>
<circle cx="373.37" cy="44.64" r="1.2" fill="#f08a1d"/>
<circle cx="393.51" cy="57.71" r="1.2" fill="#f08a1d"/>
<circle cx="413.65" cy="65.66" r="1.2" fill="#f08a1d"/>
<circle cx="464" cy="68.78" r="1.2" fill="#f08a1d"/>
<line x1="464" y1="87.29" x2="464" y2="94.84" stroke="#1b2a66" stroke-width="1"/>
<line x1="461.9" y1="87.29" x2="466.1" y2="87.29" stroke="#1b2a66" stroke-width="1"/>
<line x1="461.9" y1="94.84" x2="466.1" y2="94.84" stroke="#1b2a66" stroke-width="1"/>
<circle cx="363.3" cy="38.6" r="1.7" fill="#2546a6"/>
<circle cx="373.37" cy="53.09" r="1.7" fill="#2546a6"/>
<circle cx="393.51" cy="65.66" r="1.7" fill="#2546a6"/>
<circle cx="413.65" cy="83.87" r="1.7" fill="#2546a6"/>
<circle cx="464" cy="91.11" r="1.7" fill="#2546a6"/>
<line x1="464" y1="69.99" x2="464" y2="74.01" stroke="#4a2a5a" stroke-width="1"/>
<line x1="461.9" y1="69.99" x2="466.1" y2="69.99" stroke="#4a2a5a" stroke-width="1"/>
<line x1="461.9" y1="74.01" x2="466.1" y2="74.01" stroke="#4a2a5a" stroke-width="1"/>
<path d="M363.3 40.44 l1.76 -3.12 h-3.52 z" fill="#8f3a96"/>
<path d="M373.37 50.1 l1.76 -3.12 h-3.52 z" fill="#8f3a96"/>
<path d="M393.51 61.16 l1.76 -3.12 h-3.52 z" fill="#8f3a96"/>
<path d="M413.65 71.32 l1.76 -3.12 h-3.52 z" fill="#8f3a96"/>
<path d="M464 73.84 l1.76 -3.12 h-3.52 z" fill="#8f3a96"/>
<path d="M468.3 48.6 H474.6 V73.7 H468.3" fill="none" stroke="#333" stroke-width="1"/>
<path d="M468.3 90.8 H474.6 V105.2 H468.3" fill="none" stroke="#333" stroke-width="1"/>
<text x="478" y="62.2" font-size="8.2" font-weight="normal" text-anchor="start" fill="#231f20" stroke="#231f20" stroke-width="0.22">CD56<tspan font-size="4.4" dy="-2.7">neg/low</tspan></text>
<text x="478" y="100.1" font-size="8.2" font-weight="normal" text-anchor="start" fill="#231f20" stroke="#231f20" stroke-width="0.22">CD56<tspan font-size="4.4" dy="-2.7">pos</tspan></text>
<line x1="368.3" y1="108.3" x2="377.7" y2="108.3" stroke="#2db560" stroke-width="1.1"/>
<path d="M373 106.11 l2.09 3.7 h-4.18 z" fill="#2db560"/>
<text x="383" y="111.2" font-size="8" font-weight="normal" text-anchor="start" fill="#231f20" stroke="#231f20" stroke-width="0.22">U266</text>
<line x1="368.3" y1="120" x2="377.7" y2="120" stroke="#8f3a96" stroke-width="1.1"/>
<path d="M373 122.19 l2.09 -3.7 h-4.18 z" fill="#8f3a96"/>
<text x="383" y="122.9" font-size="8" font-weight="normal" text-anchor="start" fill="#231f20" stroke="#231f20" stroke-width="0.22">L363</text>
<line x1="368.3" y1="131.3" x2="377.7" y2="131.3" stroke="#f08a1d" stroke-width="1.1"/>
<circle cx="373" cy="131.3" r="1.42" fill="#f08a1d"/>
<text x="383" y="134.2" font-size="8" font-weight="normal" text-anchor="start" fill="#231f20" stroke="#231f20" stroke-width="0.22">MM.1S</text>
<line x1="435.1" y1="120" x2="444.5" y2="120" stroke="#2546a6" stroke-width="1.1"/>
<circle cx="439.8" cy="120" r="1.9" fill="#2546a6"/>
<text x="449.8" y="122.9" font-size="8" font-weight="normal" text-anchor="start" fill="#231f20" stroke="#231f20" stroke-width="0.22">OPM-2</text>
<line x1="435.1" y1="131.3" x2="444.5" y2="131.3" stroke="#ec1c24" stroke-width="1.1"/>
<rect x="437.9" y="129.4" width="3.8" height="3.8" fill="#ec1c24"/>
<text x="449.8" y="134.2" font-size="8" font-weight="normal" text-anchor="start" fill="#231f20" stroke="#231f20" stroke-width="0.22">H929</text>
<text x="88" y="198.6" font-size="9.3" font-weight="bold" text-anchor="middle" fill="#231f20" stroke="#231f20" stroke-width="0.3">RRMM (<tspan font-style="italic">n</tspan> = 6)</text>
<line x1="33.1" y1="208.52" x2="33.1" y2="327.05" stroke="#1e1e1e" stroke-width="0.9"/>
<line x1="29.4" y1="326.6" x2="33.1" y2="326.6" stroke="#1e1e1e" stroke-width="0.9"/>
<text x="28.2" y="329.16" font-size="8.9" font-weight="normal" text-anchor="end" fill="#231f20" stroke="#231f20" stroke-width="0.22">0</text>
<line x1="29.4" y1="297.08" x2="33.1" y2="297.08" stroke="#1e1e1e" stroke-width="0.9"/>
<text x="28.2" y="299.64" font-size="8.9" font-weight="normal" text-anchor="end" fill="#231f20" stroke="#231f20" stroke-width="0.22">20</text>
<line x1="29.4" y1="267.56" x2="33.1" y2="267.56" stroke="#1e1e1e" stroke-width="0.9"/>
<text x="28.2" y="270.12" font-size="8.9" font-weight="normal" text-anchor="end" fill="#231f20" stroke="#231f20" stroke-width="0.22">40</text>
<line x1="29.4" y1="238.04" x2="33.1" y2="238.04" stroke="#1e1e1e" stroke-width="0.9"/>
<text x="28.2" y="240.6" font-size="8.9" font-weight="normal" text-anchor="end" fill="#231f20" stroke="#231f20" stroke-width="0.22">60</text>
<line x1="29.4" y1="208.52" x2="33.1" y2="208.52" stroke="#1e1e1e" stroke-width="0.9"/>
<text x="28.2" y="211.08" font-size="8.9" font-weight="normal" text-anchor="end" fill="#231f20" stroke="#231f20" stroke-width="0.22">80</text>
<line x1="32.35" y1="326.6" x2="147.5" y2="326.6" stroke="#1e1e1e" stroke-width="0.9"/>
<text transform="translate(8.9 263.5) rotate(-90)" font-size="9.45" font-weight="bold" text-anchor="middle" fill="#231f20" stroke="#231f20" stroke-width="0.3">Percentage of dead cells</text>
<path d="M35.2 326.6 V317.27 q0 -1 1 -1 h2 q1 0 1 1 V326.6 z" fill="#2546a6"/>
<path d="M40.35 326.6 V269.59 q0 -1 1 -1 h2 q1 0 1 1 V326.6 z" fill="#ec1c24"/>
<path d="M45.5 326.6 V256.9 q0 -1 1 -1 h2 q1 0 1 1 V326.6 z" fill="#0fad4f"/>
<line x1="42.2" y1="326.6" x2="42.2" y2="329.6" stroke="#1e1e1e" stroke-width="0.9"/>
<text x="40.4" y="338.2" font-size="6.7" font-weight="normal" text-anchor="middle" fill="#231f20" stroke="#231f20" stroke-width="0.22">204</text>
<path d="M54.3 326.6 V317.56 q0 -1 1 -1 h2 q1 0 1 1 V326.6 z" fill="#2546a6"/>
<path d="M59.45 326.6 V271.51 q0 -1 1 -1 h2 q1 0 1 1 V326.6 z" fill="#ec1c24"/>
<path d="M64.6 326.6 V256.9 q0 -1 1 -1 h2 q1 0 1 1 V326.6 z" fill="#0fad4f"/>
<line x1="61.3" y1="326.6" x2="61.3" y2="329.6" stroke="#1e1e1e" stroke-width="0.9"/>
<text x="60.3" y="338.2" font-size="6.7" font-weight="normal" text-anchor="middle" fill="#231f20" stroke="#231f20" stroke-width="0.22">509</text>
<path d="M73.4 326.6 V306.94 q0 -1 1 -1 h2 q1 0 1 1 V326.6 z" fill="#2546a6"/>
<path d="M78.55 326.6 V264.13 q0 -1 1 -1 h2 q1 0 1 1 V326.6 z" fill="#ec1c24"/>
<path d="M83.7 326.6 V236.53 q0 -1 1 -1 h2 q1 0 1 1 V326.6 z" fill="#0fad4f"/>
<line x1="80.4" y1="326.6" x2="80.4" y2="329.6" stroke="#1e1e1e" stroke-width="0.9"/>
<text x="80.2" y="338.2" font-size="6.7" font-weight="normal" text-anchor="middle" fill="#231f20" stroke="#231f20" stroke-width="0.22">935</text>
<path d="M92.5 326.6 V322.43 q0 -1 1 -1 h2 q1 0 1 1 V326.6 z" fill="#2546a6"/>
<path d="M97.65 326.6 V320.96 q0 -1 1 -1 h2 q1 0 1 1 V326.6 z" fill="#ec1c24"/>
<path d="M102.8 326.6 V309.89 q0 -1 1 -1 h2 q1 0 1 1 V326.6 z" fill="#0fad4f"/>
<line x1="99.5" y1="326.6" x2="99.5" y2="329.6" stroke="#1e1e1e" stroke-width="0.9"/>
<text x="100.1" y="338.2" font-size="6.7" font-weight="normal" text-anchor="middle" fill="#231f20" stroke="#231f20" stroke-width="0.22">524</text>
<path d="M111.6 326.6 V322.43 q0 -1 1 -1 h2 q1 0 1 1 V326.6 z" fill="#2546a6"/>
<path d="M116.75 326.6 V303.98 q0 -1 1 -1 h2 q1 0 1 1 V326.6 z" fill="#ec1c24"/>
<path d="M121.9 326.6 V293.65 q0 -1 1 -1 h2 q1 0 1 1 V326.6 z" fill="#0fad4f"/>
<line x1="118.6" y1="326.6" x2="118.6" y2="329.6" stroke="#1e1e1e" stroke-width="0.9"/>
<text x="120" y="338.2" font-size="6.7" font-weight="normal" text-anchor="middle" fill="#231f20" stroke="#231f20" stroke-width="0.22">267</text>
<path d="M130.7 326.6 V325.39 q0 -1 1 -1 h2 q1 0 1 1 V326.6 z" fill="#2546a6"/>
<path d="M135.85 326.6 V309.89 q0 -1 1 -1 h2 q1 0 1 1 V326.6 z" fill="#ec1c24"/>
<path d="M141 326.6 V303.25 q0 -1 1 -1 h2 q1 0 1 1 V326.6 z" fill="#0fad4f"/>
<line x1="137.7" y1="326.6" x2="137.7" y2="329.6" stroke="#1e1e1e" stroke-width="0.9"/>
<text x="139.9" y="338.2" font-size="6.7" font-weight="normal" text-anchor="middle" fill="#231f20" stroke="#231f20" stroke-width="0.22">539</text>
<text x="21.2" y="338.1" font-size="6.5" font-weight="normal" text-anchor="middle" fill="#231f20" stroke="#231f20" stroke-width="0.22">MM-</text>
<text x="38.5" y="212.8" font-size="7.8" font-weight="normal" text-anchor="start" fill="#231f20" stroke="#231f20" stroke-width="0.22">&gt;10% CD56<tspan font-size="4.7" dy="-2.3">pos</tspan></text>
<line x1="35.4" y1="217.7" x2="86.6" y2="217.7" stroke="#5a5a5a" stroke-width="1.1"/>
<text x="99" y="261.5" font-size="7.8" font-weight="normal" text-anchor="start" fill="#231f20" stroke="#231f20" stroke-width="0.22">&lt;10% CD56<tspan font-size="4.7" dy="-2.3">pos</tspan></text>
<line x1="93.8" y1="265.4" x2="148.3" y2="265.4" stroke="#5a5a5a" stroke-width="1.1"/>
<rect x="96.7" y="214.5" width="12.8" height="6.5" fill="#2546a6"/>
<text x="114.9" y="220.2" font-size="7.7" font-weight="normal" text-anchor="start" fill="#231f20" stroke="#231f20" stroke-width="0.22">DMSO</text>
<rect x="96.7" y="226.5" width="12.8" height="6.5" fill="#ec1c24"/>
<text x="114.9" y="232.2" font-size="7.7" font-weight="normal" text-anchor="start" fill="#231f20" stroke="#231f20" stroke-width="0.22">CREBi 0.3</text>
<rect x="96.7" y="238.5" width="12.8" height="6.5" fill="#0fad4f"/>
<text x="114.9" y="244.2" font-size="7.7" font-weight="normal" text-anchor="start" fill="#231f20" stroke="#231f20" stroke-width="0.22">CREBi 1</text>
<text x="249.5" y="198.6" font-size="9.3" font-weight="bold" text-anchor="middle" fill="#231f20" stroke="#231f20" stroke-width="0.3">RRMM (<tspan font-style="italic">n</tspan> = 7)</text>
<line x1="196.4" y1="208.2" x2="196.4" y2="327.45" stroke="#1e1e1e" stroke-width="0.9"/>
<line x1="192.8" y1="327" x2="196.4" y2="327" stroke="#1e1e1e" stroke-width="0.9"/>
<text x="191.6" y="330.16" font-size="8.9" font-weight="normal" text-anchor="end" fill="#231f20" stroke="#231f20" stroke-width="0.22">0</text>
<line x1="192.8" y1="287.4" x2="196.4" y2="287.4" stroke="#1e1e1e" stroke-width="0.9"/>
<text x="191.6" y="290.56" font-size="8.9" font-weight="normal" text-anchor="end" fill="#231f20" stroke="#231f20" stroke-width="0.22">20</text>
<line x1="192.8" y1="247.8" x2="196.4" y2="247.8" stroke="#1e1e1e" stroke-width="0.9"/>
<text x="191.6" y="250.96" font-size="8.9" font-weight="normal" text-anchor="end" fill="#231f20" stroke="#231f20" stroke-width="0.22">40</text>
<line x1="192.8" y1="208.2" x2="196.4" y2="208.2" stroke="#1e1e1e" stroke-width="0.9"/>
<text x="191.6" y="211.36" font-size="8.9" font-weight="normal" text-anchor="end" fill="#231f20" stroke="#231f20" stroke-width="0.22">60</text>
<line x1="195.95" y1="327" x2="312.5" y2="327" stroke="#1e1e1e" stroke-width="0.9"/>
<text transform="translate(170.3 264.2) rotate(-90)" font-size="9.55" font-weight="bold" text-anchor="middle" fill="#231f20" stroke="#231f20" stroke-width="0.3">Percentage of dead cells</text>
<path d="M198 327 V314.14 q0 -1 1 -1 h2.8 q1 0 1 1 V327 z" fill="#000"/>
<path d="M204.4 327 V224.05 q0 -1 1 -1 h2.8 q1 0 1 1 V327 z" fill="#2546a6"/>
<line x1="203.6" y1="327" x2="203.6" y2="330" stroke="#1e1e1e" stroke-width="0.9"/>
<text x="203.6" y="338.2" font-size="6.7" font-weight="normal" text-anchor="middle" fill="#231f20" stroke="#231f20" stroke-width="0.22">204</text>
<path d="M214.75 327 V314.54 q0 -1 1 -1 h2.8 q1 0 1 1 V327 z" fill="#000"/>
<path d="M221.15 327 V248.8 q0 -1 1 -1 h2.8 q1 0 1 1 V327 z" fill="#2546a6"/>
<line x1="220.35" y1="327" x2="220.35" y2="330" stroke="#1e1e1e" stroke-width="0.9"/>
<text x="220.3" y="338.2" font-size="6.7" font-weight="normal" text-anchor="middle" fill="#231f20" stroke="#231f20" stroke-width="0.22">509</text>
<path d="M231.5 327 V300.28 q0 -1 1 -1 h2.8 q1 0 1 1 V327 z" fill="#000"/>
<path d="M237.9 327 V266.62 q0 -1 1 -1 h2.8 q1 0 1 1 V327 z" fill="#2546a6"/>
<line x1="237.1" y1="327" x2="237.1" y2="330" stroke="#1e1e1e" stroke-width="0.9"/>
<text x="237.3" y="338.2" font-size="6.7" font-weight="normal" text-anchor="middle" fill="#231f20" stroke="#231f20" stroke-width="0.22">935</text>
<path d="M248.25 327 V321.07 q0 -1 1 -1 h2.8 q1 0 1 1 V327 z" fill="#000"/>
<path d="M254.65 327 V324.44 q0 -1 1 -1 h2.8 q1 0 1 1 V327 z" fill="#2546a6"/>
<line x1="253.85" y1="327" x2="253.85" y2="330" stroke="#1e1e1e" stroke-width="0.9"/>
<text x="254.3" y="338.2" font-size="6.7" font-weight="normal" text-anchor="middle" fill="#231f20" stroke="#231f20" stroke-width="0.22">524</text>
<path d="M265 327 V325.43 q0 -1 1 -1 h2.8 q1 0 1 1 V327 z" fill="#000"/>
<path d="M271.4 327 V273.55 q0 -1 1 -1 h2.8 q1 0 1 1 V327 z" fill="#2546a6"/>
<line x1="270.6" y1="327" x2="270.6" y2="330" stroke="#1e1e1e" stroke-width="0.9"/>
<text x="271" y="338.2" font-size="6.7" font-weight="normal" text-anchor="middle" fill="#231f20" stroke="#231f20" stroke-width="0.22">539</text>
<path d="M281.75 327 V310.58 q0 -1 1 -1 h2.8 q1 0 1 1 V327 z" fill="#000"/>
<path d="M288.15 327 V282.46 q0 -1 1 -1 h2.8 q1 0 1 1 V327 z" fill="#2546a6"/>
<line x1="287.35" y1="327" x2="287.35" y2="330" stroke="#1e1e1e" stroke-width="0.9"/>
<text x="288" y="338.2" font-size="6.7" font-weight="normal" text-anchor="middle" fill="#231f20" stroke="#231f20" stroke-width="0.22">434</text>
<path d="M298.5 327 V322.06 q0 -1 1 -1 h2.8 q1 0 1 1 V327 z" fill="#000"/>
<path d="M304.9 327 V298.7 q0 -1 1 -1 h2.8 q1 0 1 1 V327 z" fill="#2546a6"/>
<line x1="304.1" y1="327" x2="304.1" y2="330" stroke="#1e1e1e" stroke-width="0.9"/>
<text x="307.5" y="338.2" font-size="6.7" font-weight="normal" text-anchor="middle" fill="#231f20" stroke="#231f20" stroke-width="0.22">5,775</text>
<text x="182.8" y="338.1" font-size="6.2" font-weight="normal" text-anchor="middle" fill="#231f20" stroke="#231f20" stroke-width="0.22">MM-</text>
<text x="203" y="212.8" font-size="7.8" font-weight="normal" text-anchor="start" fill="#231f20" stroke="#231f20" stroke-width="0.22">&gt;10% CD56<tspan font-size="4.7" dy="-2.3">pos</tspan></text>
<line x1="201.2" y1="217.8" x2="244.5" y2="217.8" stroke="#5a5a5a" stroke-width="1.1"/>
<text x="258" y="261.5" font-size="7.8" font-weight="normal" text-anchor="start" fill="#231f20" stroke="#231f20" stroke-width="0.22">&lt;10% CD56<tspan font-size="4.7" dy="-2.3">pos</tspan></text>
<line x1="250.8" y1="265.4" x2="312.3" y2="265.4" stroke="#5a5a5a" stroke-width="1.1"/>
<rect x="251.9" y="226.8" width="12.7" height="6.2" fill="#000"/>
<text x="269.8" y="233.1" font-size="7.7" font-weight="normal" text-anchor="start" fill="#231f20" stroke="#231f20" stroke-width="0.22">DMSO</text>
<rect x="251.9" y="238.4" width="12.7" height="6.2" fill="#2546a6"/>
<text x="269.8" y="244.7" font-size="7.7" font-weight="normal" text-anchor="start" fill="#231f20" stroke="#231f20" stroke-width="0.22">RSK2i</text>
<rect x="384.7" y="180.1" width="12.9" height="5.8" fill="#000"/>
<text x="401.1" y="186.3" font-size="7.35" font-weight="normal" text-anchor="start" fill="#231f20" stroke="#231f20" stroke-width="0.22">CNT</text>
<rect x="431.5" y="180.1" width="12.8" height="5.8" fill="#2546a6"/>
<text x="448.4" y="186.3" font-size="7.35" font-weight="normal" text-anchor="start" fill="#231f20" stroke="#231f20" stroke-width="0.22">CD56</text>
<rect x="384.7" y="189.4" width="12.9" height="5.8" fill="#ec1c24"/>
<text x="401.1" y="196.2" font-size="7.35" font-weight="normal" text-anchor="start" fill="#231f20" stroke="#231f20" stroke-width="0.22">Rescue</text>
<rect x="431.5" y="189.4" width="12.8" height="5.8" fill="#d2d2d2"/>
<text x="448.4" y="196.2" font-size="7.35" font-weight="normal" text-anchor="start" fill="#231f20" stroke="#231f20" stroke-width="0.22">sh CREB1</text>
<text transform="translate(342.4 269.3) rotate(-90)" font-size="8.25" font-weight="bold" text-anchor="middle" fill="#231f20" stroke="#231f20" stroke-width="0.3">Cell number (*10<tspan font-size="4.6" dy="-2.6">3</tspan><tspan dy="2.6">)</tspan></text>
<line x1="367.6" y1="207.7" x2="367.6" y2="326.75" stroke="#1e1e1e" stroke-width="0.9"/>
<line x1="364.1" y1="326.3" x2="367.6" y2="326.3" stroke="#1e1e1e" stroke-width="0.9"/>
<text x="362.9" y="329.32" font-size="8.5" font-weight="normal" text-anchor="end" fill="#231f20" stroke="#231f20" stroke-width="0.22">0</text>
<line x1="364.1" y1="296.65" x2="367.6" y2="296.65" stroke="#1e1e1e" stroke-width="0.9"/>
<text x="362.9" y="299.67" font-size="8.5" font-weight="normal" text-anchor="end" fill="#231f20" stroke="#231f20" stroke-width="0.22">100</text>
<line x1="364.1" y1="267" x2="367.6" y2="267" stroke="#1e1e1e" stroke-width="0.9"/>
<text x="362.9" y="270.02" font-size="8.5" font-weight="normal" text-anchor="end" fill="#231f20" stroke="#231f20" stroke-width="0.22">200</text>
<line x1="364.1" y1="237.35" x2="367.6" y2="237.35" stroke="#1e1e1e" stroke-width="0.9"/>
<text x="362.9" y="240.37" font-size="8.5" font-weight="normal" text-anchor="end" fill="#231f20" stroke="#231f20" stroke-width="0.22">300</text>
<line x1="364.1" y1="207.7" x2="367.6" y2="207.7" stroke="#1e1e1e" stroke-width="0.9"/>
<text x="362.9" y="210.72" font-size="8.5" font-weight="normal" text-anchor="end" fill="#231f20" stroke="#231f20" stroke-width="0.22">400</text>
<line x1="367.15" y1="326.3" x2="432.4" y2="326.3" stroke="#1e1e1e" stroke-width="0.9"/>
<line x1="377.45" y1="259.59" x2="377.45" y2="272.34" stroke="#222" stroke-width="0.8"/>
<line x1="374.75" y1="259.59" x2="380.15" y2="259.59" stroke="#222" stroke-width="0.8"/>
<rect x="372.1" y="272.34" width="10.7" height="53.96" fill="#000"/>
<line x1="392.6" y1="235.87" x2="392.6" y2="253.36" stroke="#222" stroke-width="0.8"/>
<line x1="389.9" y1="235.87" x2="395.3" y2="235.87" stroke="#222" stroke-width="0.8"/>
<rect x="387.6" y="253.71" width="10" height="72.59" fill="#2546a6" stroke="#1b2a66" stroke-width="0.7"/>
<line x1="407.75" y1="283.01" x2="407.75" y2="290.13" stroke="#222" stroke-width="0.8"/>
<line x1="405.05" y1="283.01" x2="410.45" y2="283.01" stroke="#222" stroke-width="0.8"/>
<rect x="402.75" y="290.48" width="10" height="35.82" fill="#ec1c24" stroke="#7d1216" stroke-width="0.7"/>
<line x1="422.9" y1="284.79" x2="422.9" y2="294.43" stroke="#222" stroke-width="0.8"/>
<line x1="420.2" y1="284.79" x2="425.6" y2="284.79" stroke="#222" stroke-width="0.8"/>
<rect x="417.9" y="294.78" width="10" height="31.52" fill="#cfcfcf" stroke="#444" stroke-width="0.7"/>
<path d="M392.3 230.4 V224.5 H407.6 V281" fill="none" stroke="#333" stroke-width="0.9"/>
<text x="400.6" y="216.67" font-size="11.5" font-weight="bold" text-anchor="middle" fill="#111" stroke="#111" stroke-width="0.3">****</text>
<text x="401.8" y="337.2" font-size="8.3" font-weight="normal" text-anchor="middle" fill="#231f20" stroke="#231f20" stroke-width="0.22">48 h</text>
<line x1="453.8" y1="207.75" x2="453.8" y2="327.45" stroke="#1e1e1e" stroke-width="0.9"/>
<line x1="450.3" y1="327" x2="453.8" y2="327" stroke="#1e1e1e" stroke-width="0.9"/>
<text x="449.1" y="330.02" font-size="8.5" font-weight="normal" text-anchor="end" fill="#231f20" stroke="#231f20" stroke-width="0.22">0</text>
<line x1="450.3" y1="303.15" x2="453.8" y2="303.15" stroke="#1e1e1e" stroke-width="0.9"/>
<text x="449.1" y="306.17" font-size="8.5" font-weight="normal" text-anchor="end" fill="#231f20" stroke="#231f20" stroke-width="0.22">100</text>
<line x1="450.3" y1="279.3" x2="453.8" y2="279.3" stroke="#1e1e1e" stroke-width="0.9"/>
<text x="449.1" y="282.32" font-size="8.5" font-weight="normal" text-anchor="end" fill="#231f20" stroke="#231f20" stroke-width="0.22">200</text>
<line x1="450.3" y1="255.45" x2="453.8" y2="255.45" stroke="#1e1e1e" stroke-width="0.9"/>
<text x="449.1" y="258.47" font-size="8.5" font-weight="normal" text-anchor="end" fill="#231f20" stroke="#231f20" stroke-width="0.22">300</text>
<line x1="450.3" y1="231.6" x2="453.8" y2="231.6" stroke="#1e1e1e" stroke-width="0.9"/>
<text x="449.1" y="234.62" font-size="8.5" font-weight="normal" text-anchor="end" fill="#231f20" stroke="#231f20" stroke-width="0.22">400</text>
<line x1="450.3" y1="207.75" x2="453.8" y2="207.75" stroke="#1e1e1e" stroke-width="0.9"/>
<text x="449.1" y="210.77" font-size="8.5" font-weight="normal" text-anchor="end" fill="#231f20" stroke="#231f20" stroke-width="0.22">500</text>
<line x1="453.35" y1="327" x2="520" y2="327" stroke="#1e1e1e" stroke-width="0.9"/>
<line x1="464.25" y1="256.4" x2="464.25" y2="266.18" stroke="#222" stroke-width="0.8"/>
<line x1="461.55" y1="256.4" x2="466.95" y2="256.4" stroke="#222" stroke-width="0.8"/>
<rect x="458.9" y="266.18" width="10.7" height="60.82" fill="#000"/>
<line x1="479.2" y1="224.44" x2="479.2" y2="241.14" stroke="#222" stroke-width="0.8"/>
<line x1="476.5" y1="224.44" x2="481.9" y2="224.44" stroke="#222" stroke-width="0.8"/>
<rect x="474.2" y="241.49" width="10" height="85.51" fill="#2546a6" stroke="#1b2a66" stroke-width="0.7"/>
<line x1="494.15" y1="269.76" x2="494.15" y2="277.15" stroke="#222" stroke-width="0.8"/>
<line x1="491.45" y1="269.76" x2="496.85" y2="269.76" stroke="#222" stroke-width="0.8"/>
<rect x="489.15" y="277.5" width="10" height="49.5" fill="#ec1c24" stroke="#7d1216" stroke-width="0.7"/>
<line x1="509.1" y1="260.46" x2="509.1" y2="262.13" stroke="#222" stroke-width="0.8"/>
<line x1="506.4" y1="260.46" x2="511.8" y2="260.46" stroke="#222" stroke-width="0.8"/>
<rect x="504.1" y="262.48" width="10" height="64.52" fill="#cfcfcf" stroke="#444" stroke-width="0.7"/>
<path d="M479.3 224 V217.5 H494.4 V268" fill="none" stroke="#333" stroke-width="0.9"/>
<text x="486.5" y="216.87" font-size="11.5" font-weight="bold" text-anchor="middle" fill="#111" stroke="#111" stroke-width="0.3">****</text>
<text x="490.5" y="337.2" font-size="8.3" font-weight="normal" text-anchor="middle" fill="#231f20" stroke="#231f20" stroke-width="0.22">72 h</text>
<text transform="translate(8.8 431) rotate(-90)" font-size="8.4" font-weight="bold" text-anchor="middle" fill="#231f20" stroke="#231f20" stroke-width="0.3">Percentage of control</text>
<line x1="32.5" y1="378.75" x2="32.5" y2="488.25" stroke="#1e1e1e" stroke-width="0.9"/>
<line x1="29" y1="487.8" x2="32.5" y2="487.8" stroke="#1e1e1e" stroke-width="0.9"/>
<text x="27.8" y="490.82" font-size="8.5" font-weight="normal" text-anchor="end" fill="#231f20" stroke="#231f20" stroke-width="0.22">0</text>
<line x1="29" y1="451.45" x2="32.5" y2="451.45" stroke="#1e1e1e" stroke-width="0.9"/>
<text x="27.8" y="454.47" font-size="8.5" font-weight="normal" text-anchor="end" fill="#231f20" stroke="#231f20" stroke-width="0.22">50</text>
<line x1="29" y1="415.1" x2="32.5" y2="415.1" stroke="#1e1e1e" stroke-width="0.9"/>
<text x="27.8" y="418.12" font-size="8.5" font-weight="normal" text-anchor="end" fill="#231f20" stroke="#231f20" stroke-width="0.22">100</text>
<line x1="29" y1="378.75" x2="32.5" y2="378.75" stroke="#1e1e1e" stroke-width="0.9"/>
<text x="27.8" y="381.77" font-size="8.5" font-weight="normal" text-anchor="end" fill="#231f20" stroke="#231f20" stroke-width="0.22">150</text>
<line x1="32.05" y1="487.8" x2="105" y2="487.8" stroke="#1e1e1e" stroke-width="0.9"/>
<line x1="44" y1="405.07" x2="44" y2="412.26" stroke="#222" stroke-width="0.8"/>
<line x1="41" y1="405.07" x2="47" y2="405.07" stroke="#222" stroke-width="0.8"/>
<rect x="38.1" y="412.26" width="11.8" height="75.54" fill="#000"/>
<line x1="43.9" y1="487.8" x2="43.9" y2="490.8" stroke="#1e1e1e" stroke-width="0.9"/>
<line x1="61.1" y1="415.68" x2="61.1" y2="423.82" stroke="#1b2a66" stroke-width="0.8"/>
<line x1="58.1" y1="415.68" x2="64.1" y2="415.68" stroke="#1b2a66" stroke-width="0.8"/>
<rect x="55.55" y="424.17" width="11.1" height="63.63" fill="#2546a6" stroke="#1b2a66" stroke-width="0.7"/>
<line x1="61" y1="487.8" x2="61" y2="490.8" stroke="#1e1e1e" stroke-width="0.9"/>
<line x1="78.2" y1="387.47" x2="78.2" y2="394.24" stroke="#b0141a" stroke-width="0.8"/>
<line x1="75.2" y1="387.47" x2="81.2" y2="387.47" stroke="#b0141a" stroke-width="0.8"/>
<rect x="72.65" y="394.59" width="11.1" height="93.21" fill="#ec1c24" stroke="#7d1216" stroke-width="0.7"/>
<line x1="78.1" y1="487.8" x2="78.1" y2="490.8" stroke="#1e1e1e" stroke-width="0.9"/>
<line x1="95.3" y1="441.64" x2="95.3" y2="452.1" stroke="#555" stroke-width="0.8"/>
<line x1="92.3" y1="441.64" x2="98.3" y2="441.64" stroke="#555" stroke-width="0.8"/>
<rect x="89.75" y="452.45" width="11.1" height="35.35" fill="#cfcfcf" stroke="#444" stroke-width="0.7"/>
<line x1="95.2" y1="487.8" x2="95.2" y2="490.8" stroke="#1e1e1e" stroke-width="0.9"/>
<text x="44.6" y="499.2" font-size="7.7" font-weight="normal" text-anchor="middle" fill="#231f20" stroke="#231f20" stroke-width="0.22">D</text>
<text x="61.5" y="499.2" font-size="7.7" font-weight="normal" text-anchor="middle" fill="#231f20" stroke="#231f20" stroke-width="0.22">CRi</text>
<text x="78.3" y="499.2" font-size="7.7" font-weight="normal" text-anchor="middle" fill="#231f20" stroke="#231f20" stroke-width="0.22">D</text>
<text x="95.8" y="499.2" font-size="7.7" font-weight="normal" text-anchor="middle" fill="#231f20" stroke="#231f20" stroke-width="0.22">CRi</text>
<text x="51.5" y="365.5" font-size="7.7" font-weight="normal" text-anchor="middle" fill="#231f20" stroke="#231f20" stroke-width="0.22">CNT</text>
<line x1="38.5" y1="369.7" x2="64.6" y2="369.7" stroke="#666" stroke-width="1.1"/>
<text x="86.9" y="365.5" font-size="7.9" font-weight="normal" text-anchor="middle" fill="#231f20" stroke="#231f20" stroke-width="0.22">CD56</text>
<line x1="73.4" y1="369.7" x2="99.5" y2="369.7" stroke="#666" stroke-width="1.1"/>
<path d="M77.6 385.5 V380.6 H94.8 V436.3" fill="none" stroke="#333" stroke-width="0.9"/>
<text x="87.1" y="381.82" font-size="10.5" font-weight="bold" text-anchor="middle" fill="#111" stroke="#111" stroke-width="0.3">**</text>
<text transform="translate(127.3 431) rotate(-90)" font-size="8.4" font-weight="bold" text-anchor="middle" fill="#231f20" stroke="#231f20" stroke-width="0.3">Percentage of control</text>
<line x1="151.6" y1="376.3" x2="151.6" y2="488.25" stroke="#1e1e1e" stroke-width="0.9"/>
<line x1="148.1" y1="487.8" x2="151.6" y2="487.8" stroke="#1e1e1e" stroke-width="0.9"/>
<text x="146.9" y="490.82" font-size="8.5" font-weight="normal" text-anchor="end" fill="#231f20" stroke="#231f20" stroke-width="0.22">0</text>
<line x1="148.1" y1="459.93" x2="151.6" y2="459.93" stroke="#1e1e1e" stroke-width="0.9"/>
<text x="146.9" y="462.94" font-size="8.5" font-weight="normal" text-anchor="end" fill="#231f20" stroke="#231f20" stroke-width="0.22">50</text>
<line x1="148.1" y1="432.05" x2="151.6" y2="432.05" stroke="#1e1e1e" stroke-width="0.9"/>
<text x="146.9" y="435.07" font-size="8.5" font-weight="normal" text-anchor="end" fill="#231f20" stroke="#231f20" stroke-width="0.22">100</text>
<line x1="148.1" y1="404.18" x2="151.6" y2="404.18" stroke="#1e1e1e" stroke-width="0.9"/>
<text x="146.9" y="407.19" font-size="8.5" font-weight="normal" text-anchor="end" fill="#231f20" stroke="#231f20" stroke-width="0.22">150</text>
<line x1="148.1" y1="376.3" x2="151.6" y2="376.3" stroke="#1e1e1e" stroke-width="0.9"/>
<text x="146.9" y="379.32" font-size="8.5" font-weight="normal" text-anchor="end" fill="#231f20" stroke="#231f20" stroke-width="0.22">200</text>
<line x1="151.15" y1="487.8" x2="214.5" y2="487.8" stroke="#1e1e1e" stroke-width="0.9"/>
<rect x="156.5" y="432.27" width="9.9" height="55.53" fill="#000"/>
<line x1="161.3" y1="487.8" x2="161.3" y2="490.8" stroke="#1e1e1e" stroke-width="0.9"/>
<line x1="176.15" y1="433.5" x2="176.15" y2="439.07" stroke="#444" stroke-width="0.8"/>
<line x1="173.35" y1="433.5" x2="178.95" y2="433.5" stroke="#444" stroke-width="0.8"/>
<rect x="171.6" y="439.42" width="9.2" height="48.38" fill="#9a9a9a" stroke="#3c3c3c" stroke-width="0.7"/>
<line x1="176.05" y1="487.8" x2="176.05" y2="490.8" stroke="#1e1e1e" stroke-width="0.9"/>
<line x1="190.9" y1="391.58" x2="190.9" y2="401.28" stroke="#b0141a" stroke-width="0.8"/>
<line x1="188.1" y1="391.58" x2="193.7" y2="391.58" stroke="#b0141a" stroke-width="0.8"/>
<rect x="186.35" y="401.63" width="9.2" height="86.17" fill="#ec1c24" stroke="#7d1216" stroke-width="0.7"/>
<line x1="190.8" y1="487.8" x2="190.8" y2="490.8" stroke="#1e1e1e" stroke-width="0.9"/>
<line x1="205.65" y1="444.98" x2="205.65" y2="450.11" stroke="#c04a50" stroke-width="0.8"/>
<line x1="202.85" y1="444.98" x2="208.45" y2="444.98" stroke="#c04a50" stroke-width="0.8"/>
<rect x="201.1" y="450.46" width="9.2" height="37.34" fill="#f0787c" stroke="#8a3034" stroke-width="0.7"/>
<line x1="205.55" y1="487.8" x2="205.55" y2="490.8" stroke="#1e1e1e" stroke-width="0.9"/>
<text x="162.3" y="499.1" font-size="7.5" font-weight="normal" text-anchor="middle" fill="#231f20" stroke="#231f20" stroke-width="0.22">D</text>
<text x="176.9" y="499.1" font-size="7.5" font-weight="normal" text-anchor="middle" fill="#231f20" stroke="#231f20" stroke-width="0.22">RSi</text>
<text x="191" y="499.1" font-size="7.5" font-weight="normal" text-anchor="middle" fill="#231f20" stroke="#231f20" stroke-width="0.22">D</text>
<text x="206.4" y="499.1" font-size="7.5" font-weight="normal" text-anchor="middle" fill="#231f20" stroke="#231f20" stroke-width="0.22">RSi</text>
<text x="169.5" y="365.5" font-size="7.7" font-weight="normal" text-anchor="middle" fill="#231f20" stroke="#231f20" stroke-width="0.22">CNT</text>
<line x1="156.2" y1="369.7" x2="182.3" y2="369.7" stroke="#666" stroke-width="1.1"/>
<text x="199.2" y="365.5" font-size="7.9" font-weight="normal" text-anchor="middle" fill="#231f20" stroke="#231f20" stroke-width="0.22">CD56</text>
<line x1="185.4" y1="369.7" x2="212" y2="369.7" stroke="#666" stroke-width="1.1"/>
<path d="M191.2 386.5 V381.9 H205.3 V442" fill="none" stroke="#333" stroke-width="0.9"/>
<text x="198.2" y="381.82" font-size="10.5" font-weight="bold" text-anchor="middle" fill="#111" stroke="#111" stroke-width="0.3">*</text>
<text x="295" y="360.5" font-size="8.95" font-weight="bold" text-anchor="middle" fill="#231f20" stroke="#231f20" stroke-width="0.3">H929</text>
<text x="382.3" y="360.5" font-size="8.95" font-weight="bold" text-anchor="middle" fill="#231f20" stroke="#231f20" stroke-width="0.3">OPM-2</text>
<rect x="263.3" y="366.9" width="8.7" height="4.6" fill="#000"/>
<text x="277.1" y="371.9" font-size="6.85" font-weight="normal" text-anchor="start" fill="#333" stroke="#333" stroke-width="0.22">scr</text>
<rect x="295.7" y="366.9" width="8.4" height="4.6" fill="#d2d2d2"/>
<text x="307.4" y="371.9" font-size="6.85" font-weight="normal" text-anchor="start" fill="#333" stroke="#333" stroke-width="0.22">sh CREB1</text>
<rect x="343.7" y="366.9" width="8.6" height="4.6" fill="#2546a6"/>
<text x="354.9" y="371.9" font-size="6.85" font-weight="normal" text-anchor="start" fill="#333" stroke="#333" stroke-width="0.22">sh CD56</text>
<rect x="386" y="366.9" width="8.7" height="4.6" fill="#ec1c24"/>
<text x="398.7" y="371.9" font-size="6.85" font-weight="normal" text-anchor="start" fill="#333" stroke="#333" stroke-width="0.22">Combo</text>
<text transform="translate(234.4 432.3) rotate(-90)" font-size="8.25" font-weight="bold" text-anchor="middle" fill="#231f20" stroke="#231f20" stroke-width="0.3">Cell number (*10<tspan font-size="4.6" dy="-2.6">3</tspan><tspan dy="2.6">)</tspan></text>
<line x1="260.7" y1="375.4" x2="260.7" y2="488.5" stroke="#1e1e1e" stroke-width="1"/>
<line x1="257.2" y1="488" x2="260.7" y2="488" stroke="#1e1e1e" stroke-width="1"/>
<text x="256" y="491.02" font-size="8.5" font-weight="normal" text-anchor="end" fill="#231f20" stroke="#231f20" stroke-width="0.22">0</text>
<line x1="257.2" y1="463.15" x2="260.7" y2="463.15" stroke="#1e1e1e" stroke-width="1"/>
<text x="256" y="466.17" font-size="8.5" font-weight="normal" text-anchor="end" fill="#231f20" stroke="#231f20" stroke-width="0.22">100</text>
<line x1="257.2" y1="438.3" x2="260.7" y2="438.3" stroke="#1e1e1e" stroke-width="1"/>
<text x="256" y="441.32" font-size="8.5" font-weight="normal" text-anchor="end" fill="#231f20" stroke="#231f20" stroke-width="0.22">200</text>
<line x1="257.2" y1="413.45" x2="260.7" y2="413.45" stroke="#1e1e1e" stroke-width="1"/>
<text x="256" y="416.47" font-size="8.5" font-weight="normal" text-anchor="end" fill="#231f20" stroke="#231f20" stroke-width="0.22">300</text>
<line x1="257.2" y1="388.6" x2="260.7" y2="388.6" stroke="#1e1e1e" stroke-width="1"/>
<text x="256" y="391.62" font-size="8.5" font-weight="normal" text-anchor="end" fill="#231f20" stroke="#231f20" stroke-width="0.22">400</text>
<line x1="260.2" y1="488" x2="327.8" y2="488" stroke="#1e1e1e" stroke-width="1"/>
<line x1="270.8" y1="392.33" x2="270.8" y2="401.15" stroke="#222" stroke-width="0.8"/>
<line x1="268.1" y1="392.33" x2="273.5" y2="392.33" stroke="#222" stroke-width="0.8"/>
<rect x="265.5" y="401.15" width="10.7" height="86.85" fill="#000"/>
<line x1="286.3" y1="414.29" x2="286.3" y2="422.4" stroke="#222" stroke-width="0.8"/>
<line x1="283.6" y1="414.29" x2="289" y2="414.29" stroke="#222" stroke-width="0.8"/>
<rect x="281.35" y="422.75" width="10" height="65.25" fill="#2546a6" stroke="#1b2a66" stroke-width="0.7"/>
<line x1="301.8" y1="421.5" x2="301.8" y2="430.94" stroke="#222" stroke-width="0.8"/>
<line x1="299.1" y1="421.5" x2="304.5" y2="421.5" stroke="#222" stroke-width="0.8"/>
<rect x="296.85" y="431.29" width="10" height="56.71" fill="#cfcfcf" stroke="#444" stroke-width="0.7"/>
<line x1="317.3" y1="441.28" x2="317.3" y2="456.94" stroke="#222" stroke-width="0.8"/>
<line x1="314.6" y1="441.28" x2="320" y2="441.28" stroke="#222" stroke-width="0.8"/>
<rect x="312.35" y="457.29" width="10" height="30.71" fill="#ec1c24" stroke="#7d1216" stroke-width="0.7"/>
<path d="M285.8 409.6 V403.2 H319.9 V436.5" fill="none" stroke="#333" stroke-width="0.9"/>
<text x="303" y="402.82" font-size="10.5" font-weight="bold" text-anchor="middle" fill="#111" stroke="#111" stroke-width="0.3">***</text>
<path d="M301.9 418.8 V414.7 H317.8 V436.5" fill="none" stroke="#333" stroke-width="0.9"/>
<text x="311.2" y="416.32" font-size="10.5" font-weight="bold" text-anchor="middle" fill="#111" stroke="#111" stroke-width="0.3">**</text>
<line x1="348.1" y1="375.4" x2="348.1" y2="488.45" stroke="#1e1e1e" stroke-width="0.9"/>
<line x1="344.6" y1="488" x2="348.1" y2="488" stroke="#1e1e1e" stroke-width="0.9"/>
<text x="343.4" y="491.02" font-size="8.5" font-weight="normal" text-anchor="end" fill="#231f20" stroke="#231f20" stroke-width="0.22">0</text>
<line x1="344.6" y1="453.2" x2="348.1" y2="453.2" stroke="#1e1e1e" stroke-width="0.9"/>
<text x="343.4" y="456.22" font-size="8.5" font-weight="normal" text-anchor="end" fill="#231f20" stroke="#231f20" stroke-width="0.22">100</text>
<line x1="344.6" y1="418.4" x2="348.1" y2="418.4" stroke="#1e1e1e" stroke-width="0.9"/>
<text x="343.4" y="421.42" font-size="8.5" font-weight="normal" text-anchor="end" fill="#231f20" stroke="#231f20" stroke-width="0.22">200</text>
<line x1="344.6" y1="383.6" x2="348.1" y2="383.6" stroke="#1e1e1e" stroke-width="0.9"/>
<text x="343.4" y="386.62" font-size="8.5" font-weight="normal" text-anchor="end" fill="#231f20" stroke="#231f20" stroke-width="0.22">300</text>
<line x1="347.65" y1="488" x2="414" y2="488" stroke="#1e1e1e" stroke-width="0.9"/>
<line x1="359" y1="392.3" x2="359" y2="411.44" stroke="#222" stroke-width="0.8"/>
<line x1="356.4" y1="392.3" x2="361.6" y2="392.3" stroke="#222" stroke-width="0.8"/>
<rect x="353.5" y="411.44" width="11" height="76.56" fill="#000"/>
<line x1="375.15" y1="432.32" x2="375.15" y2="438.03" stroke="#222" stroke-width="0.8"/>
<line x1="372.55" y1="432.32" x2="377.75" y2="432.32" stroke="#222" stroke-width="0.8"/>
<rect x="370" y="438.38" width="10.3" height="49.62" fill="#2546a6" stroke="#1b2a66" stroke-width="0.7"/>
<line x1="391.3" y1="438.72" x2="391.3" y2="445.89" stroke="#222" stroke-width="0.8"/>
<line x1="388.7" y1="438.72" x2="393.9" y2="438.72" stroke="#222" stroke-width="0.8"/>
<rect x="386.15" y="446.24" width="10.3" height="41.76" fill="#cfcfcf" stroke="#444" stroke-width="0.7"/>
<line x1="407.45" y1="445.54" x2="407.45" y2="457.03" stroke="#222" stroke-width="0.8"/>
<line x1="404.85" y1="445.54" x2="410.05" y2="445.54" stroke="#222" stroke-width="0.8"/>
<rect x="402.3" y="457.38" width="10.3" height="30.62" fill="#ec1c24" stroke="#7d1216" stroke-width="0.7"/>
<path d="M375.7 427.3 V416.2 H412.3 V442" fill="none" stroke="#333" stroke-width="0.9"/>
<text x="395" y="414.32" font-size="10.5" font-weight="bold" text-anchor="middle" fill="#111" stroke="#111" stroke-width="0.3">**</text>
<path d="M391.2 435.3 V431.6 H408.2 V442" fill="none" stroke="#333" stroke-width="0.9"/>
<text x="400.3" y="430.82" font-size="10.5" font-weight="bold" text-anchor="middle" fill="#111" stroke="#111" stroke-width="0.3">*</text>
<text x="491.2" y="372.5" font-size="8.95" font-weight="bold" text-anchor="middle" fill="#231f20" stroke="#231f20" stroke-width="0.3">U266</text>
<text transform="translate(479 407.2) rotate(-90)" font-size="7.4" fill="#231f20" stroke="#231f20" stroke-width="0.15">CNT</text>
<text transform="translate(492.3 407.2) rotate(-90)" font-size="7.4" fill="#231f20" stroke="#231f20" stroke-width="0.15">CD56</text>
<text transform="translate(506.1 407.2) rotate(-90)" font-size="7.4" fill="#231f20" stroke="#231f20" stroke-width="0.15">Rescue</text>
<text x="436.7" y="422.6" font-size="7.7" font-weight="normal" text-anchor="start" fill="#231f20" stroke="#231f20" stroke-width="0.22">CD56</text>
<text x="436.7" y="437.1" font-size="7.7" font-weight="normal" text-anchor="start" fill="#231f20" stroke="#231f20" stroke-width="0.22">CREB1</text>
<text x="436.7" y="451.8" font-size="7.7" font-weight="normal" text-anchor="start" fill="#231f20" stroke="#231f20" stroke-width="0.22">MCL1</text>
<text x="436.7" y="465.7" font-size="7.7" font-weight="normal" text-anchor="start" fill="#231f20" stroke="#231f20" stroke-width="0.22">BCL2</text>
<text x="436.7" y="479.5" font-size="7.7" font-weight="normal" text-anchor="start" fill="#231f20" stroke="#231f20" stroke-width="0.22">Vinculin</text>
<defs><filter id="bl" x="-20%" y="-50%" width="140%" height="200%"><feGaussianBlur stdDeviation="0.85"/></filter><filter id="bl2" x="-20%" y="-50%" width="140%" height="200%"><feGaussianBlur stdDeviation="1.2"/></filter><linearGradient id="g1" x1="0" x2="1" y1="0" y2="0"><stop offset="0" stop-color="#c6c6c6"/><stop offset="0.45" stop-color="#b4b4b4"/><stop offset="1" stop-color="#ababab"/></linearGradient></defs>
<rect x="470.2" y="412.1" width="40" height="12.9" fill="url(#g1)"/>
<rect x="470.2" y="428.4" width="40" height="13.1" fill="#a9a9a9"/>
<rect x="470.2" y="445.2" width="40" height="12.1" fill="#a3a3a3"/>
<rect x="470.2" y="460" width="40" height="9.2" fill="#b1b1b1"/>
<rect x="470.2" y="472.2" width="40" height="10.8" fill="#ababab"/>
<ellipse cx="479.5" cy="419" rx="1.5" ry="2.5" fill="#888" opacity="0.5" filter="url(#bl2)"/>
<ellipse cx="490.2" cy="418.6" rx="5" ry="2.6" fill="#141414" opacity="0.95" filter="url(#bl)"/>
<ellipse cx="504" cy="418.6" rx="4.5" ry="2.5" fill="#141414" opacity="0.95" filter="url(#bl)"/>
<ellipse cx="504" cy="422" rx="2.5" ry="1.5" fill="#555" opacity="0.5" filter="url(#bl2)"/>
<ellipse cx="476.6" cy="435.8" rx="4.5" ry="1.6" fill="#141414" opacity="0.95" filter="url(#bl)"/>
<ellipse cx="488.3" cy="435.8" rx="4.5" ry="1.7" fill="#141414" opacity="0.95" filter="url(#bl)"/>
<ellipse cx="502.4" cy="435.8" rx="4" ry="0.8" fill="#333" opacity="0.85" filter="url(#bl)"/>
<ellipse cx="477.8" cy="451.3" rx="4" ry="1.2" fill="#141414" opacity="0.95" filter="url(#bl)"/>
<ellipse cx="490.5" cy="451.3" rx="5" ry="2.1" fill="#141414" opacity="0.95" filter="url(#bl)"/>
<ellipse cx="503.2" cy="451.3" rx="4.5" ry="1.7" fill="#141414" opacity="0.95" filter="url(#bl)"/>
<ellipse cx="489.5" cy="465.5" rx="4" ry="3" fill="#777" opacity="0.55" filter="url(#bl2)"/>
<ellipse cx="477" cy="464" rx="4" ry="2" fill="#999" opacity="0.4" filter="url(#bl2)"/>
<ellipse cx="503" cy="465" rx="3" ry="1.5" fill="#999" opacity="0.35" filter="url(#bl2)"/>
<ellipse cx="477" cy="477" rx="4.5" ry="1.5" fill="#141414" opacity="0.95" filter="url(#bl)"/>
<ellipse cx="490" cy="477.3" rx="4.75" ry="1.6" fill="#141414" opacity="0.95" filter="url(#bl)"/>
<ellipse cx="503" cy="477.8" rx="4.5" ry="1.6" fill="#141414" opacity="0.95" filter="url(#bl)"/>
</svg>
</body></html>
